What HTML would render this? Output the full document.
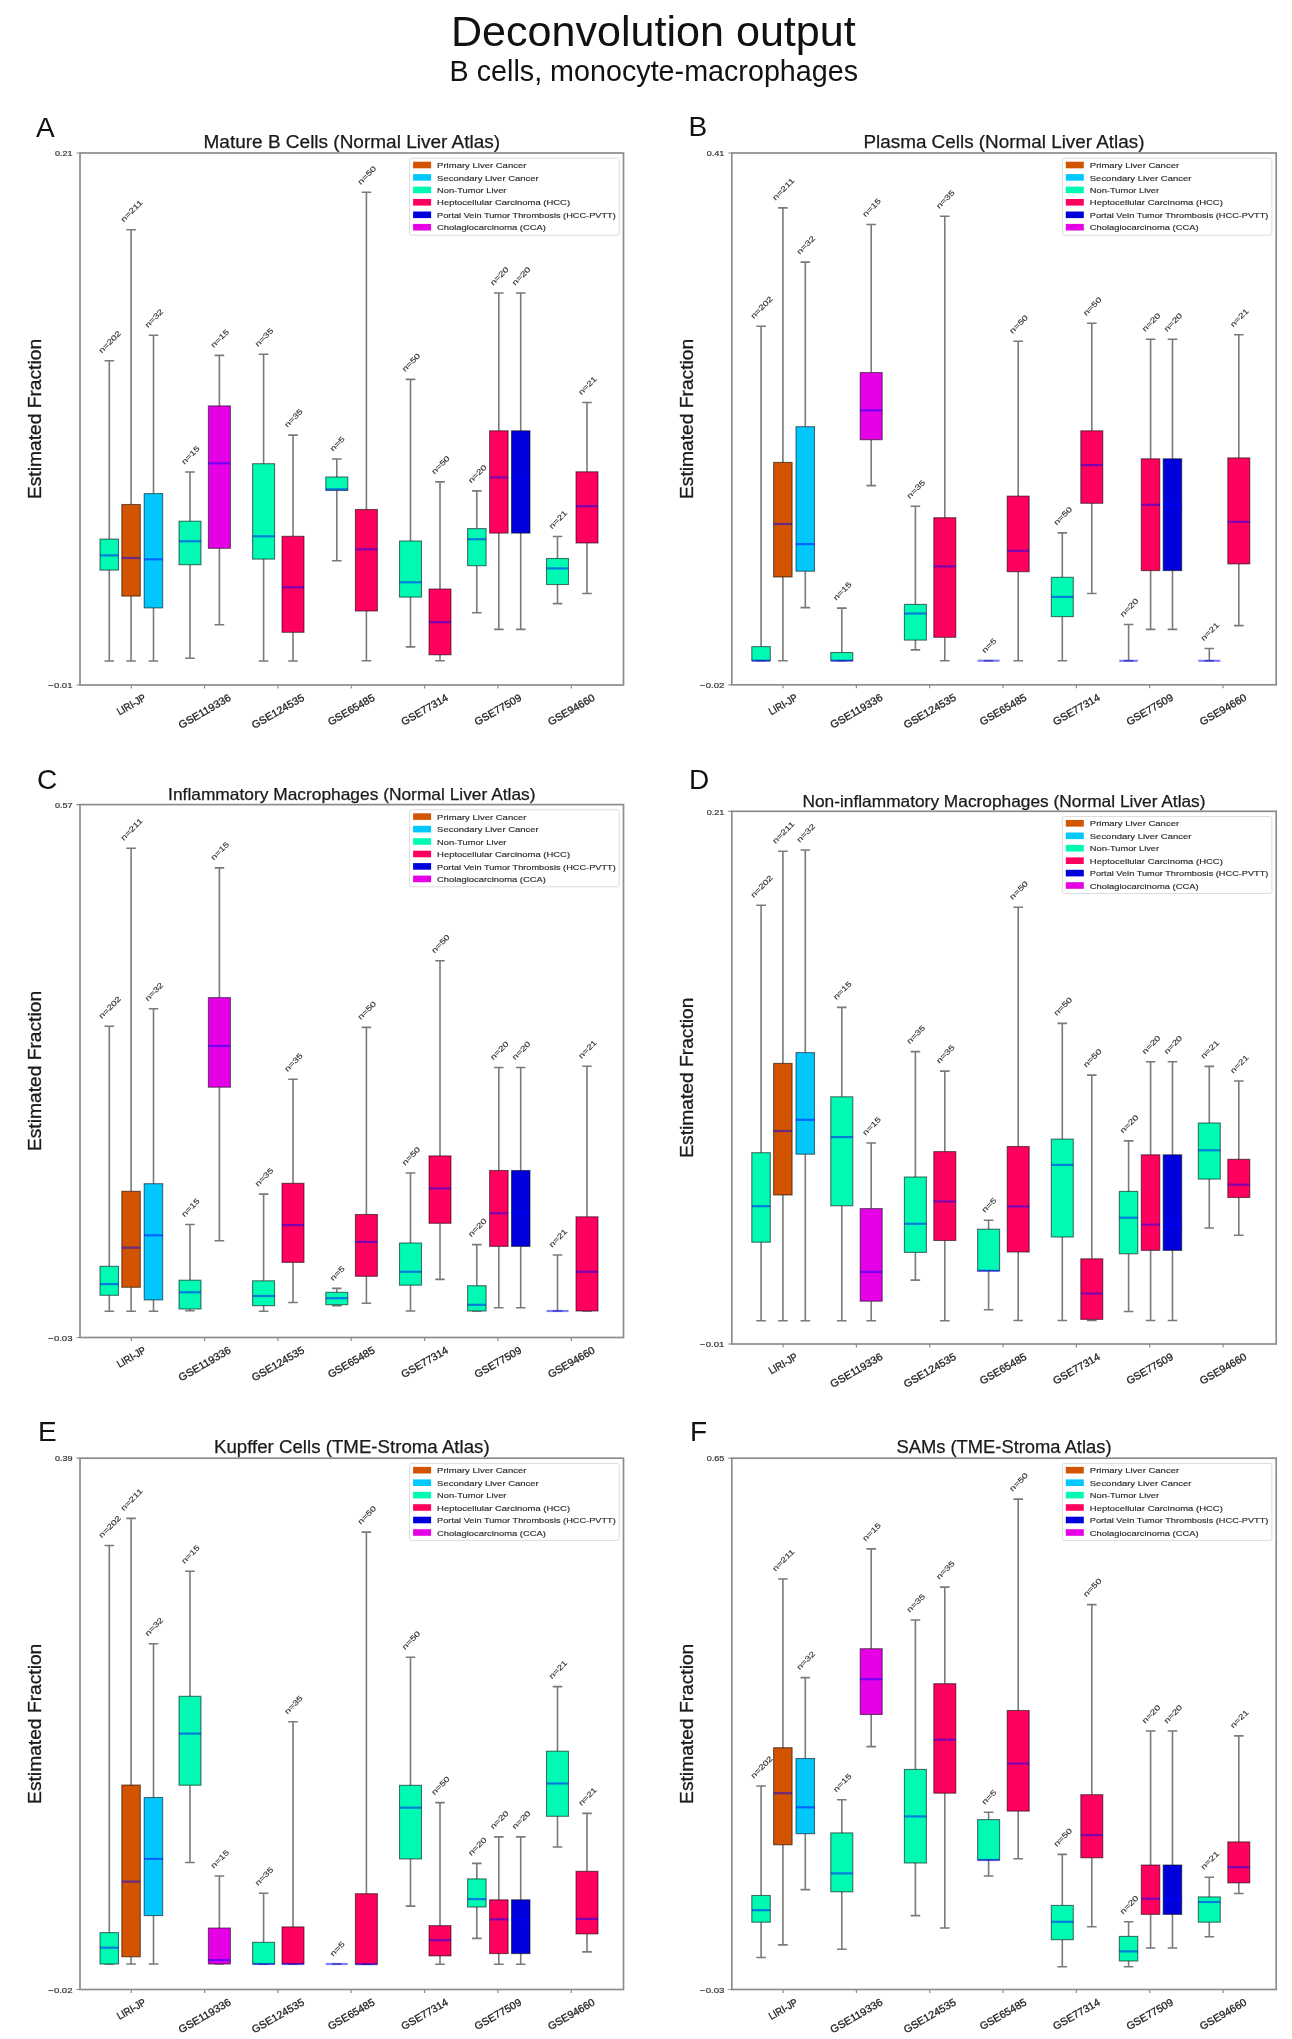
<!DOCTYPE html><html><head><meta charset="utf-8"><style>html,body{margin:0;padding:0;background:#fff;}svg{display:block;filter:blur(0.4px);}text{font-family:"Liberation Sans",sans-serif;}</style></head><body>
<svg width="1292" height="2039" viewBox="0 0 1292 2039">
<rect width="1292" height="2039" fill="#fff"/>
<text x="451" y="45.9" font-size="42" textLength="404.7" lengthAdjust="spacingAndGlyphs" fill="#111">Deconvolution output</text>
<text x="449.6" y="81.3" font-size="28.6" textLength="408.5" lengthAdjust="spacingAndGlyphs" fill="#111">B cells, monocyte-macrophages</text>
<text x="36" y="136.6" font-size="28" fill="#111">A</text>
<text x="351.8" y="147.8" font-size="18.3" text-anchor="middle" textLength="296.5" lengthAdjust="spacingAndGlyphs" fill="#1a1a1a" stroke="#1a1a1a" stroke-width="0.25">Mature B Cells (Normal Liver Atlas)</text>
<text transform="translate(41.2,419) rotate(-90)" font-size="18.4" text-anchor="middle" textLength="160.2" lengthAdjust="spacingAndGlyphs" fill="#1a1a1a" stroke="#1a1a1a" stroke-width="0.3">Estimated Fraction</text>
<text x="72.5" y="156.2" font-size="8.0" text-anchor="end" textLength="17.6" lengthAdjust="spacingAndGlyphs" fill="#333" stroke="#333" stroke-width="0.2">0.21</text>
<text x="72.5" y="688.2" font-size="8.0" text-anchor="end" textLength="24.2" lengthAdjust="spacingAndGlyphs" fill="#333" stroke="#333" stroke-width="0.2">−0.01</text>
<path d="M109.3 360.8V539.1M109.3 570.1V661M104.5 360.8H114.1M104.5 661H114.1" stroke="#7a7a7a" stroke-width="1.6" fill="none"/>
<rect x="100" y="539.1" width="18.5" height="31" fill="#00FAB4" stroke="rgba(0,0,0,0.55)" stroke-width="1.1"/>
<path d="M100 555.4H118.5" stroke="rgba(0,0,255,0.5)" stroke-width="2.2"/>
<text transform="translate(109.8,341.9) rotate(-45)" font-size="7.4" text-anchor="middle" dy="2.6" textLength="27.7" lengthAdjust="spacingAndGlyphs" fill="#333" stroke="#333" stroke-width="0.15">n=202</text>
<path d="M131.1 229.8V504.5M131.1 596.1V661M126.3 229.8H135.9M126.3 661H135.9" stroke="#7a7a7a" stroke-width="1.6" fill="none"/>
<rect x="121.8" y="504.5" width="18.5" height="91.6" fill="#D35400" stroke="rgba(0,0,0,0.55)" stroke-width="1.1"/>
<path d="M121.8 558H140.3" stroke="rgba(0,0,255,0.5)" stroke-width="2.2"/>
<text transform="translate(131.6,210.9) rotate(-45)" font-size="7.4" text-anchor="middle" dy="2.6" textLength="27.7" lengthAdjust="spacingAndGlyphs" fill="#333" stroke="#333" stroke-width="0.15">n=211</text>
<path d="M153.5 335.2V493.6M153.5 607.9V661M148.7 335.2H158.3M148.7 661H158.3" stroke="#7a7a7a" stroke-width="1.6" fill="none"/>
<rect x="144.2" y="493.6" width="18.5" height="114.3" fill="#00C8FF" stroke="rgba(0,0,0,0.55)" stroke-width="1.1"/>
<path d="M144.2 559.3H162.8" stroke="rgba(0,0,255,0.5)" stroke-width="2.2"/>
<text transform="translate(154,318.1) rotate(-45)" font-size="7.4" text-anchor="middle" dy="2.6" textLength="22.5" lengthAdjust="spacingAndGlyphs" fill="#333" stroke="#333" stroke-width="0.15">n=32</text>
<path d="M190 472V521.2M190 564.7V658.3M185.2 472H194.8M185.2 658.3H194.8" stroke="#7a7a7a" stroke-width="1.6" fill="none"/>
<rect x="179" y="521.2" width="22" height="43.5" fill="#00FAB4" stroke="rgba(0,0,0,0.55)" stroke-width="1.1"/>
<path d="M179 541.3H201" stroke="rgba(0,0,255,0.5)" stroke-width="2.2"/>
<text transform="translate(190.5,454.9) rotate(-45)" font-size="7.4" text-anchor="middle" dy="2.6" textLength="22.5" lengthAdjust="spacingAndGlyphs" fill="#333" stroke="#333" stroke-width="0.15">n=15</text>
<path d="M219.4 355.4V405.9M219.4 548.3V624.8M214.6 355.4H224.2M214.6 624.8H224.2" stroke="#7a7a7a" stroke-width="1.6" fill="none"/>
<rect x="208.4" y="405.9" width="22" height="142.4" fill="#E600E6" stroke="rgba(0,0,0,0.55)" stroke-width="1.1"/>
<path d="M208.4 463.3H230.4" stroke="rgba(0,0,255,0.5)" stroke-width="2.2"/>
<text transform="translate(219.9,338.3) rotate(-45)" font-size="7.4" text-anchor="middle" dy="2.6" textLength="22.5" lengthAdjust="spacingAndGlyphs" fill="#333" stroke="#333" stroke-width="0.15">n=15</text>
<path d="M263.6 354.3V463.7M263.6 559.1V661M258.8 354.3H268.4M258.8 661H268.4" stroke="#7a7a7a" stroke-width="1.6" fill="none"/>
<rect x="252.6" y="463.7" width="22" height="95.4" fill="#00FAB4" stroke="rgba(0,0,0,0.55)" stroke-width="1.1"/>
<path d="M252.6 536.3H274.6" stroke="rgba(0,0,255,0.5)" stroke-width="2.2"/>
<text transform="translate(264.1,337.2) rotate(-45)" font-size="7.4" text-anchor="middle" dy="2.6" textLength="22.5" lengthAdjust="spacingAndGlyphs" fill="#333" stroke="#333" stroke-width="0.15">n=35</text>
<path d="M293 435.1V536.3M293 632.3V661M288.2 435.1H297.8M288.2 661H297.8" stroke="#7a7a7a" stroke-width="1.6" fill="none"/>
<rect x="282" y="536.3" width="22" height="96" fill="#FF005F" stroke="rgba(0,0,0,0.55)" stroke-width="1.1"/>
<path d="M282 587.3H304" stroke="rgba(0,0,255,0.5)" stroke-width="2.2"/>
<text transform="translate(293.5,418) rotate(-45)" font-size="7.4" text-anchor="middle" dy="2.6" textLength="22.5" lengthAdjust="spacingAndGlyphs" fill="#333" stroke="#333" stroke-width="0.15">n=35</text>
<path d="M336.8 459V477M336.8 490.4V560.8M332 459H341.6M332 560.8H341.6" stroke="#7a7a7a" stroke-width="1.6" fill="none"/>
<rect x="325.8" y="477" width="22" height="13.4" fill="#00FAB4" stroke="rgba(0,0,0,0.55)" stroke-width="1.1"/>
<path d="M325.8 489.3H347.8" stroke="rgba(0,0,255,0.5)" stroke-width="2.2"/>
<text transform="translate(337.3,443.8) rotate(-45)" font-size="7.4" text-anchor="middle" dy="2.6" textLength="17.3" lengthAdjust="spacingAndGlyphs" fill="#333" stroke="#333" stroke-width="0.15">n=5</text>
<path d="M366.4 192.2V509.5M366.4 611V660.8M361.6 192.2H371.2M361.6 660.8H371.2" stroke="#7a7a7a" stroke-width="1.6" fill="none"/>
<rect x="355.4" y="509.5" width="22" height="101.5" fill="#FF005F" stroke="rgba(0,0,0,0.55)" stroke-width="1.1"/>
<path d="M355.4 549.3H377.4" stroke="rgba(0,0,255,0.5)" stroke-width="2.2"/>
<text transform="translate(366.9,175.1) rotate(-45)" font-size="7.4" text-anchor="middle" dy="2.6" textLength="22.5" lengthAdjust="spacingAndGlyphs" fill="#333" stroke="#333" stroke-width="0.15">n=50</text>
<path d="M410.5 379.4V541M410.5 597.1V646.9M405.7 379.4H415.3M405.7 646.9H415.3" stroke="#7a7a7a" stroke-width="1.6" fill="none"/>
<rect x="399.5" y="541" width="22" height="56.1" fill="#00FAB4" stroke="rgba(0,0,0,0.55)" stroke-width="1.1"/>
<path d="M399.5 582.3H421.5" stroke="rgba(0,0,255,0.5)" stroke-width="2.2"/>
<text transform="translate(411,362.3) rotate(-45)" font-size="7.4" text-anchor="middle" dy="2.6" textLength="22.5" lengthAdjust="spacingAndGlyphs" fill="#333" stroke="#333" stroke-width="0.15">n=50</text>
<path d="M440 481.9V589M440 654.8V660.8M435.2 481.9H444.8M435.2 660.8H444.8" stroke="#7a7a7a" stroke-width="1.6" fill="none"/>
<rect x="429" y="589" width="22" height="65.8" fill="#FF005F" stroke="rgba(0,0,0,0.55)" stroke-width="1.1"/>
<path d="M429 622.2H451" stroke="rgba(0,0,255,0.5)" stroke-width="2.2"/>
<text transform="translate(440.5,464.8) rotate(-45)" font-size="7.4" text-anchor="middle" dy="2.6" textLength="22.5" lengthAdjust="spacingAndGlyphs" fill="#333" stroke="#333" stroke-width="0.15">n=50</text>
<path d="M476.8 490.9V528.6M476.8 565.7V612.8M472 490.9H481.6M472 612.8H481.6" stroke="#7a7a7a" stroke-width="1.6" fill="none"/>
<rect x="467.6" y="528.6" width="18.5" height="37.1" fill="#00FAB4" stroke="rgba(0,0,0,0.55)" stroke-width="1.1"/>
<path d="M467.6 539.2H486.1" stroke="rgba(0,0,255,0.5)" stroke-width="2.2"/>
<text transform="translate(477.3,473.8) rotate(-45)" font-size="7.4" text-anchor="middle" dy="2.6" textLength="22.5" lengthAdjust="spacingAndGlyphs" fill="#333" stroke="#333" stroke-width="0.15">n=20</text>
<path d="M498.8 293V430.8M498.8 533.1V629.4M494 293H503.6M494 629.4H503.6" stroke="#7a7a7a" stroke-width="1.6" fill="none"/>
<rect x="489.6" y="430.8" width="18.5" height="102.3" fill="#FF005F" stroke="rgba(0,0,0,0.55)" stroke-width="1.1"/>
<path d="M489.6 477.4H508.1" stroke="rgba(0,0,255,0.5)" stroke-width="2.2"/>
<text transform="translate(499.3,275.9) rotate(-45)" font-size="7.4" text-anchor="middle" dy="2.6" textLength="22.5" lengthAdjust="spacingAndGlyphs" fill="#333" stroke="#333" stroke-width="0.15">n=20</text>
<path d="M520.7 293V430.8M520.7 533.1V629.4M515.9 293H525.5M515.9 629.4H525.5" stroke="#7a7a7a" stroke-width="1.6" fill="none"/>
<rect x="511.5" y="430.8" width="18.5" height="102.3" fill="#0000DD" stroke="rgba(0,0,0,0.55)" stroke-width="1.1"/>
<path d="M511.5 477.4H530" stroke="rgba(0,0,255,0.5)" stroke-width="2.2"/>
<text transform="translate(521.2,275.9) rotate(-45)" font-size="7.4" text-anchor="middle" dy="2.6" textLength="22.5" lengthAdjust="spacingAndGlyphs" fill="#333" stroke="#333" stroke-width="0.15">n=20</text>
<path d="M557.5 536.5V558.5M557.5 584.5V603.6M552.7 536.5H562.3M552.7 603.6H562.3" stroke="#7a7a7a" stroke-width="1.6" fill="none"/>
<rect x="546.5" y="558.5" width="22" height="26" fill="#00FAB4" stroke="rgba(0,0,0,0.55)" stroke-width="1.1"/>
<path d="M546.5 568.4H568.5" stroke="rgba(0,0,255,0.5)" stroke-width="2.2"/>
<text transform="translate(558,519.4) rotate(-45)" font-size="7.4" text-anchor="middle" dy="2.6" textLength="22.5" lengthAdjust="spacingAndGlyphs" fill="#333" stroke="#333" stroke-width="0.15">n=21</text>
<path d="M587 402.5V471.8M587 543V593.5M582.2 402.5H591.8M582.2 593.5H591.8" stroke="#7a7a7a" stroke-width="1.6" fill="none"/>
<rect x="576" y="471.8" width="22" height="71.2" fill="#FF005F" stroke="rgba(0,0,0,0.55)" stroke-width="1.1"/>
<path d="M576 506.2H598" stroke="rgba(0,0,255,0.5)" stroke-width="2.2"/>
<text transform="translate(587.5,385.4) rotate(-45)" font-size="7.4" text-anchor="middle" dy="2.6" textLength="22.5" lengthAdjust="spacingAndGlyphs" fill="#333" stroke="#333" stroke-width="0.15">n=21</text>
<rect x="80" y="153" width="543.5" height="532" fill="none" stroke="#8c8c8c" stroke-width="1.7"/>
<path d="M131.3 685v3.5M204.6 685v3.5M277.9 685v3.5M351.2 685v3.5M424.6 685v3.5M497.9 685v3.5M571.3 685v3.5M80 153h-3.5M80 685h-3.5" stroke="#8c8c8c" stroke-width="1.2"/>
<text transform="translate(131.3,704.6) rotate(-30)" font-size="10.5" text-anchor="middle" dy="3.6" textLength="31.6" lengthAdjust="spacingAndGlyphs" fill="#222" stroke="#222" stroke-width="0.3">LIRI-JP</text>
<text transform="translate(204.6,711.3) rotate(-30)" font-size="10.5" text-anchor="middle" dy="3.6" textLength="58.6" lengthAdjust="spacingAndGlyphs" fill="#222" stroke="#222" stroke-width="0.3">GSE119336</text>
<text transform="translate(277.9,711.3) rotate(-30)" font-size="10.5" text-anchor="middle" dy="3.6" textLength="58.6" lengthAdjust="spacingAndGlyphs" fill="#222" stroke="#222" stroke-width="0.3">GSE124535</text>
<text transform="translate(351.2,709.7) rotate(-30)" font-size="10.5" text-anchor="middle" dy="3.6" textLength="52.2" lengthAdjust="spacingAndGlyphs" fill="#222" stroke="#222" stroke-width="0.3">GSE65485</text>
<text transform="translate(424.6,709.7) rotate(-30)" font-size="10.5" text-anchor="middle" dy="3.6" textLength="52.2" lengthAdjust="spacingAndGlyphs" fill="#222" stroke="#222" stroke-width="0.3">GSE77314</text>
<text transform="translate(497.9,709.7) rotate(-30)" font-size="10.5" text-anchor="middle" dy="3.6" textLength="52.2" lengthAdjust="spacingAndGlyphs" fill="#222" stroke="#222" stroke-width="0.3">GSE77509</text>
<text transform="translate(571.3,709.7) rotate(-30)" font-size="10.5" text-anchor="middle" dy="3.6" textLength="52.2" lengthAdjust="spacingAndGlyphs" fill="#222" stroke="#222" stroke-width="0.3">GSE94660</text>
<rect x="409.6" y="158.2" width="209.6" height="77" rx="2" fill="rgba(255,255,255,0.85)" stroke="#dcdcdc" stroke-width="1"/>
<rect x="413.1" y="161.7" width="18" height="6.6" fill="#D35400"/>
<text x="437.1" y="168.1" font-size="7.7" textLength="89.3" lengthAdjust="spacingAndGlyphs" fill="#2a2a2a" stroke="#2a2a2a" stroke-width="0.15">Primary Liver Cancer</text>
<rect x="413.1" y="174.1" width="18" height="6.6" fill="#00C8FF"/>
<text x="437.1" y="180.5" font-size="7.7" textLength="101.6" lengthAdjust="spacingAndGlyphs" fill="#2a2a2a" stroke="#2a2a2a" stroke-width="0.15">Secondary Liver Cancer</text>
<rect x="413.1" y="186.6" width="18" height="6.6" fill="#00FAB4"/>
<text x="437.1" y="193" font-size="7.7" textLength="69.3" lengthAdjust="spacingAndGlyphs" fill="#2a2a2a" stroke="#2a2a2a" stroke-width="0.15">Non-Tumor Liver</text>
<rect x="413.1" y="199" width="18" height="6.6" fill="#FF005F"/>
<text x="437.1" y="205.4" font-size="7.7" textLength="133" lengthAdjust="spacingAndGlyphs" fill="#2a2a2a" stroke="#2a2a2a" stroke-width="0.15">Heptocellular Carcinoma (HCC)</text>
<rect x="413.1" y="211.5" width="18" height="6.6" fill="#0000DD"/>
<text x="437.1" y="217.9" font-size="7.7" textLength="178.6" lengthAdjust="spacingAndGlyphs" fill="#2a2a2a" stroke="#2a2a2a" stroke-width="0.15">Portal Vein Tumor Thrombosis (HCC-PVTT)</text>
<rect x="413.1" y="223.9" width="18" height="6.6" fill="#E600E6"/>
<text x="437.1" y="230.3" font-size="7.7" textLength="108.8" lengthAdjust="spacingAndGlyphs" fill="#2a2a2a" stroke="#2a2a2a" stroke-width="0.15">Cholagiocarcinoma (CCA)</text>
<text x="688.4" y="136.3" font-size="28" fill="#111">B</text>
<text x="1004" y="147.8" font-size="18.3" text-anchor="middle" textLength="281.1" lengthAdjust="spacingAndGlyphs" fill="#1a1a1a" stroke="#1a1a1a" stroke-width="0.25">Plasma Cells (Normal Liver Atlas)</text>
<text transform="translate(693,418.9) rotate(-90)" font-size="18.4" text-anchor="middle" textLength="160.2" lengthAdjust="spacingAndGlyphs" fill="#1a1a1a" stroke="#1a1a1a" stroke-width="0.3">Estimated Fraction</text>
<text x="724.3" y="156.2" font-size="8.0" text-anchor="end" textLength="17.6" lengthAdjust="spacingAndGlyphs" fill="#333" stroke="#333" stroke-width="0.2">0.41</text>
<text x="724.3" y="688" font-size="8.0" text-anchor="end" textLength="24.2" lengthAdjust="spacingAndGlyphs" fill="#333" stroke="#333" stroke-width="0.2">−0.02</text>
<path d="M761.1 326.3V646.6M761.1 660.7V660.7M756.3 326.3H765.9M756.3 660.7H765.9" stroke="#7a7a7a" stroke-width="1.6" fill="none"/>
<rect x="751.8" y="646.6" width="18.5" height="14.1" fill="#00FAB4" stroke="rgba(0,0,0,0.55)" stroke-width="1.1"/>
<path d="M751.8 660.7H770.3" stroke="rgba(0,0,255,0.5)" stroke-width="2.2"/>
<text transform="translate(761.6,307.4) rotate(-45)" font-size="7.4" text-anchor="middle" dy="2.6" textLength="27.7" lengthAdjust="spacingAndGlyphs" fill="#333" stroke="#333" stroke-width="0.15">n=202</text>
<path d="M782.9 207.9V462.4M782.9 577V660.7M778.1 207.9H787.7M778.1 660.7H787.7" stroke="#7a7a7a" stroke-width="1.6" fill="none"/>
<rect x="773.6" y="462.4" width="18.5" height="114.6" fill="#D35400" stroke="rgba(0,0,0,0.55)" stroke-width="1.1"/>
<path d="M773.6 524H792.1" stroke="rgba(0,0,255,0.5)" stroke-width="2.2"/>
<text transform="translate(783.4,189) rotate(-45)" font-size="7.4" text-anchor="middle" dy="2.6" textLength="27.7" lengthAdjust="spacingAndGlyphs" fill="#333" stroke="#333" stroke-width="0.15">n=211</text>
<path d="M805.3 262.1V426.7M805.3 571.2V607.6M800.5 262.1H810.1M800.5 607.6H810.1" stroke="#7a7a7a" stroke-width="1.6" fill="none"/>
<rect x="796" y="426.7" width="18.5" height="144.5" fill="#00C8FF" stroke="rgba(0,0,0,0.55)" stroke-width="1.1"/>
<path d="M796 544.1H814.5" stroke="rgba(0,0,255,0.5)" stroke-width="2.2"/>
<text transform="translate(805.8,245) rotate(-45)" font-size="7.4" text-anchor="middle" dy="2.6" textLength="22.5" lengthAdjust="spacingAndGlyphs" fill="#333" stroke="#333" stroke-width="0.15">n=32</text>
<path d="M841.8 608.1V652.5M841.8 660.7V660.7M837 608.1H846.6M837 660.7H846.6" stroke="#7a7a7a" stroke-width="1.6" fill="none"/>
<rect x="830.8" y="652.5" width="22" height="8.2" fill="#00FAB4" stroke="rgba(0,0,0,0.55)" stroke-width="1.1"/>
<path d="M830.8 660.7H852.8" stroke="rgba(0,0,255,0.5)" stroke-width="2.2"/>
<text transform="translate(842.3,591) rotate(-45)" font-size="7.4" text-anchor="middle" dy="2.6" textLength="22.5" lengthAdjust="spacingAndGlyphs" fill="#333" stroke="#333" stroke-width="0.15">n=15</text>
<path d="M871.2 224.5V372.6M871.2 439.7V485.6M866.4 224.5H876M866.4 485.6H876" stroke="#7a7a7a" stroke-width="1.6" fill="none"/>
<rect x="860.2" y="372.6" width="22" height="67.1" fill="#E600E6" stroke="rgba(0,0,0,0.55)" stroke-width="1.1"/>
<path d="M860.2 410.4H882.2" stroke="rgba(0,0,255,0.5)" stroke-width="2.2"/>
<text transform="translate(871.7,207.4) rotate(-45)" font-size="7.4" text-anchor="middle" dy="2.6" textLength="22.5" lengthAdjust="spacingAndGlyphs" fill="#333" stroke="#333" stroke-width="0.15">n=15</text>
<path d="M915.4 506.2V604.4M915.4 640.1V649.9M910.6 506.2H920.2M910.6 649.9H920.2" stroke="#7a7a7a" stroke-width="1.6" fill="none"/>
<rect x="904.4" y="604.4" width="22" height="35.7" fill="#00FAB4" stroke="rgba(0,0,0,0.55)" stroke-width="1.1"/>
<path d="M904.4 613.5H926.4" stroke="rgba(0,0,255,0.5)" stroke-width="2.2"/>
<text transform="translate(915.9,489.1) rotate(-45)" font-size="7.4" text-anchor="middle" dy="2.6" textLength="22.5" lengthAdjust="spacingAndGlyphs" fill="#333" stroke="#333" stroke-width="0.15">n=35</text>
<path d="M944.8 216.3V517.7M944.8 637.3V660.7M940 216.3H949.6M940 660.7H949.6" stroke="#7a7a7a" stroke-width="1.6" fill="none"/>
<rect x="933.8" y="517.7" width="22" height="119.6" fill="#FF005F" stroke="rgba(0,0,0,0.55)" stroke-width="1.1"/>
<path d="M933.8 566.4H955.8" stroke="rgba(0,0,255,0.5)" stroke-width="2.2"/>
<text transform="translate(945.3,199.2) rotate(-45)" font-size="7.4" text-anchor="middle" dy="2.6" textLength="22.5" lengthAdjust="spacingAndGlyphs" fill="#333" stroke="#333" stroke-width="0.15">n=35</text>
<path d="M988.6 660.7V660.7M988.6 660.7V660.7M983.8 660.7H993.4M983.8 660.7H993.4" stroke="#7a7a7a" stroke-width="1.6" fill="none"/>
<rect x="977.6" y="660.7" width="22" height="0" fill="#00FAB4" stroke="rgba(0,0,0,0.55)" stroke-width="1.1"/>
<path d="M977.6 660.7H999.6" stroke="rgba(0,0,255,0.5)" stroke-width="2.2"/>
<text transform="translate(989.1,645.5) rotate(-45)" font-size="7.4" text-anchor="middle" dy="2.6" textLength="17.3" lengthAdjust="spacingAndGlyphs" fill="#333" stroke="#333" stroke-width="0.15">n=5</text>
<path d="M1018.2 341.2V496.1M1018.2 571.7V660.8M1013.4 341.2H1023M1013.4 660.8H1023" stroke="#7a7a7a" stroke-width="1.6" fill="none"/>
<rect x="1007.2" y="496.1" width="22" height="75.6" fill="#FF005F" stroke="rgba(0,0,0,0.55)" stroke-width="1.1"/>
<path d="M1007.2 550.8H1029.2" stroke="rgba(0,0,255,0.5)" stroke-width="2.2"/>
<text transform="translate(1018.7,324.1) rotate(-45)" font-size="7.4" text-anchor="middle" dy="2.6" textLength="22.5" lengthAdjust="spacingAndGlyphs" fill="#333" stroke="#333" stroke-width="0.15">n=50</text>
<path d="M1062.3 532.9V577.3M1062.3 616.6V660.8M1057.5 532.9H1067.1M1057.5 660.8H1067.1" stroke="#7a7a7a" stroke-width="1.6" fill="none"/>
<rect x="1051.3" y="577.3" width="22" height="39.3" fill="#00FAB4" stroke="rgba(0,0,0,0.55)" stroke-width="1.1"/>
<path d="M1051.3 596.9H1073.3" stroke="rgba(0,0,255,0.5)" stroke-width="2.2"/>
<text transform="translate(1062.8,515.8) rotate(-45)" font-size="7.4" text-anchor="middle" dy="2.6" textLength="22.5" lengthAdjust="spacingAndGlyphs" fill="#333" stroke="#333" stroke-width="0.15">n=50</text>
<path d="M1091.8 323.3V430.8M1091.8 503.3V593.5M1087 323.3H1096.6M1087 593.5H1096.6" stroke="#7a7a7a" stroke-width="1.6" fill="none"/>
<rect x="1080.8" y="430.8" width="22" height="72.5" fill="#FF005F" stroke="rgba(0,0,0,0.55)" stroke-width="1.1"/>
<path d="M1080.8 465.1H1102.8" stroke="rgba(0,0,255,0.5)" stroke-width="2.2"/>
<text transform="translate(1092.3,306.2) rotate(-45)" font-size="7.4" text-anchor="middle" dy="2.6" textLength="22.5" lengthAdjust="spacingAndGlyphs" fill="#333" stroke="#333" stroke-width="0.15">n=50</text>
<path d="M1128.6 624.5V660.8M1128.6 660.8V660.8M1123.8 624.5H1133.4M1123.8 660.8H1133.4" stroke="#7a7a7a" stroke-width="1.6" fill="none"/>
<rect x="1119.3" y="660.8" width="18.5" height="0" fill="#00FAB4" stroke="rgba(0,0,0,0.55)" stroke-width="1.1"/>
<path d="M1119.3 660.8H1137.8" stroke="rgba(0,0,255,0.5)" stroke-width="2.2"/>
<text transform="translate(1129.1,607.4) rotate(-45)" font-size="7.4" text-anchor="middle" dy="2.6" textLength="22.5" lengthAdjust="spacingAndGlyphs" fill="#333" stroke="#333" stroke-width="0.15">n=20</text>
<path d="M1150.6 339.2V458.8M1150.6 570.6V629.4M1145.8 339.2H1155.4M1145.8 629.4H1155.4" stroke="#7a7a7a" stroke-width="1.6" fill="none"/>
<rect x="1141.3" y="458.8" width="18.5" height="111.8" fill="#FF005F" stroke="rgba(0,0,0,0.55)" stroke-width="1.1"/>
<path d="M1141.3 504.8H1159.8" stroke="rgba(0,0,255,0.5)" stroke-width="2.2"/>
<text transform="translate(1151.1,322.1) rotate(-45)" font-size="7.4" text-anchor="middle" dy="2.6" textLength="22.5" lengthAdjust="spacingAndGlyphs" fill="#333" stroke="#333" stroke-width="0.15">n=20</text>
<path d="M1172.5 339.2V458.8M1172.5 570.6V629.4M1167.7 339.2H1177.3M1167.7 629.4H1177.3" stroke="#7a7a7a" stroke-width="1.6" fill="none"/>
<rect x="1163.2" y="458.8" width="18.5" height="111.8" fill="#0000DD" stroke="rgba(0,0,0,0.55)" stroke-width="1.1"/>
<path d="M1163.2 504.8H1181.8" stroke="rgba(0,0,255,0.5)" stroke-width="2.2"/>
<text transform="translate(1173,322.1) rotate(-45)" font-size="7.4" text-anchor="middle" dy="2.6" textLength="22.5" lengthAdjust="spacingAndGlyphs" fill="#333" stroke="#333" stroke-width="0.15">n=20</text>
<path d="M1209.3 648.5V660.8M1209.3 660.8V660.8M1204.5 648.5H1214.1M1204.5 660.8H1214.1" stroke="#7a7a7a" stroke-width="1.6" fill="none"/>
<rect x="1198.3" y="660.8" width="22" height="0" fill="#00FAB4" stroke="rgba(0,0,0,0.55)" stroke-width="1.1"/>
<path d="M1198.3 660.8H1220.3" stroke="rgba(0,0,255,0.5)" stroke-width="2.2"/>
<text transform="translate(1209.8,631.4) rotate(-45)" font-size="7.4" text-anchor="middle" dy="2.6" textLength="22.5" lengthAdjust="spacingAndGlyphs" fill="#333" stroke="#333" stroke-width="0.15">n=21</text>
<path d="M1238.8 334.7V457.9M1238.8 563.9V625.6M1234 334.7H1243.6M1234 625.6H1243.6" stroke="#7a7a7a" stroke-width="1.6" fill="none"/>
<rect x="1227.8" y="457.9" width="22" height="106" fill="#FF005F" stroke="rgba(0,0,0,0.55)" stroke-width="1.1"/>
<path d="M1227.8 521.9H1249.8" stroke="rgba(0,0,255,0.5)" stroke-width="2.2"/>
<text transform="translate(1239.3,317.6) rotate(-45)" font-size="7.4" text-anchor="middle" dy="2.6" textLength="22.5" lengthAdjust="spacingAndGlyphs" fill="#333" stroke="#333" stroke-width="0.15">n=21</text>
<rect x="731.8" y="153" width="544.4" height="531.8" fill="none" stroke="#8c8c8c" stroke-width="1.7"/>
<path d="M783.1 684.8v3.5M856.4 684.8v3.5M929.7 684.8v3.5M1003 684.8v3.5M1076.4 684.8v3.5M1149.7 684.8v3.5M1223.1 684.8v3.5M731.8 153h-3.5M731.8 684.8h-3.5" stroke="#8c8c8c" stroke-width="1.2"/>
<text transform="translate(783.1,704.4) rotate(-30)" font-size="10.5" text-anchor="middle" dy="3.6" textLength="31.6" lengthAdjust="spacingAndGlyphs" fill="#222" stroke="#222" stroke-width="0.3">LIRI-JP</text>
<text transform="translate(856.4,711.1) rotate(-30)" font-size="10.5" text-anchor="middle" dy="3.6" textLength="58.6" lengthAdjust="spacingAndGlyphs" fill="#222" stroke="#222" stroke-width="0.3">GSE119336</text>
<text transform="translate(929.7,711.1) rotate(-30)" font-size="10.5" text-anchor="middle" dy="3.6" textLength="58.6" lengthAdjust="spacingAndGlyphs" fill="#222" stroke="#222" stroke-width="0.3">GSE124535</text>
<text transform="translate(1003,709.5) rotate(-30)" font-size="10.5" text-anchor="middle" dy="3.6" textLength="52.2" lengthAdjust="spacingAndGlyphs" fill="#222" stroke="#222" stroke-width="0.3">GSE65485</text>
<text transform="translate(1076.4,709.5) rotate(-30)" font-size="10.5" text-anchor="middle" dy="3.6" textLength="52.2" lengthAdjust="spacingAndGlyphs" fill="#222" stroke="#222" stroke-width="0.3">GSE77314</text>
<text transform="translate(1149.7,709.5) rotate(-30)" font-size="10.5" text-anchor="middle" dy="3.6" textLength="52.2" lengthAdjust="spacingAndGlyphs" fill="#222" stroke="#222" stroke-width="0.3">GSE77509</text>
<text transform="translate(1223.1,709.5) rotate(-30)" font-size="10.5" text-anchor="middle" dy="3.6" textLength="52.2" lengthAdjust="spacingAndGlyphs" fill="#222" stroke="#222" stroke-width="0.3">GSE94660</text>
<rect x="1062.3" y="158.2" width="209.6" height="77" rx="2" fill="rgba(255,255,255,0.85)" stroke="#dcdcdc" stroke-width="1"/>
<rect x="1065.8" y="161.7" width="18" height="6.6" fill="#D35400"/>
<text x="1089.8" y="168.1" font-size="7.7" textLength="89.3" lengthAdjust="spacingAndGlyphs" fill="#2a2a2a" stroke="#2a2a2a" stroke-width="0.15">Primary Liver Cancer</text>
<rect x="1065.8" y="174.1" width="18" height="6.6" fill="#00C8FF"/>
<text x="1089.8" y="180.5" font-size="7.7" textLength="101.6" lengthAdjust="spacingAndGlyphs" fill="#2a2a2a" stroke="#2a2a2a" stroke-width="0.15">Secondary Liver Cancer</text>
<rect x="1065.8" y="186.6" width="18" height="6.6" fill="#00FAB4"/>
<text x="1089.8" y="193" font-size="7.7" textLength="69.3" lengthAdjust="spacingAndGlyphs" fill="#2a2a2a" stroke="#2a2a2a" stroke-width="0.15">Non-Tumor Liver</text>
<rect x="1065.8" y="199" width="18" height="6.6" fill="#FF005F"/>
<text x="1089.8" y="205.4" font-size="7.7" textLength="133" lengthAdjust="spacingAndGlyphs" fill="#2a2a2a" stroke="#2a2a2a" stroke-width="0.15">Heptocellular Carcinoma (HCC)</text>
<rect x="1065.8" y="211.5" width="18" height="6.6" fill="#0000DD"/>
<text x="1089.8" y="217.9" font-size="7.7" textLength="178.6" lengthAdjust="spacingAndGlyphs" fill="#2a2a2a" stroke="#2a2a2a" stroke-width="0.15">Portal Vein Tumor Thrombosis (HCC-PVTT)</text>
<rect x="1065.8" y="223.9" width="18" height="6.6" fill="#E600E6"/>
<text x="1089.8" y="230.3" font-size="7.7" textLength="108.8" lengthAdjust="spacingAndGlyphs" fill="#2a2a2a" stroke="#2a2a2a" stroke-width="0.15">Cholagiocarcinoma (CCA)</text>
<text x="37" y="789" font-size="28" fill="#111">C</text>
<text x="351.8" y="800" font-size="16.5" text-anchor="middle" textLength="367.4" lengthAdjust="spacingAndGlyphs" fill="#1a1a1a" stroke="#1a1a1a" stroke-width="0.25">Inflammatory Macrophages (Normal Liver Atlas)</text>
<text transform="translate(41.2,1071) rotate(-90)" font-size="18.4" text-anchor="middle" textLength="160.2" lengthAdjust="spacingAndGlyphs" fill="#1a1a1a" stroke="#1a1a1a" stroke-width="0.3">Estimated Fraction</text>
<text x="72.5" y="807.8" font-size="8.0" text-anchor="end" textLength="17.6" lengthAdjust="spacingAndGlyphs" fill="#333" stroke="#333" stroke-width="0.2">0.57</text>
<text x="72.5" y="1340.7" font-size="8.0" text-anchor="end" textLength="24.2" lengthAdjust="spacingAndGlyphs" fill="#333" stroke="#333" stroke-width="0.2">−0.03</text>
<path d="M109.3 1026.3V1266.3M109.3 1295.3V1311.2M104.5 1026.3H114.1M104.5 1311.2H114.1" stroke="#7a7a7a" stroke-width="1.6" fill="none"/>
<rect x="100" y="1266.3" width="18.5" height="29" fill="#00FAB4" stroke="rgba(0,0,0,0.55)" stroke-width="1.1"/>
<path d="M100 1284.1H118.5" stroke="rgba(0,0,255,0.5)" stroke-width="2.2"/>
<text transform="translate(109.8,1007.4) rotate(-45)" font-size="7.4" text-anchor="middle" dy="2.6" textLength="27.7" lengthAdjust="spacingAndGlyphs" fill="#333" stroke="#333" stroke-width="0.15">n=202</text>
<path d="M131.1 848.2V1191.3M131.1 1287.3V1311.2M126.3 848.2H135.9M126.3 1311.2H135.9" stroke="#7a7a7a" stroke-width="1.6" fill="none"/>
<rect x="121.8" y="1191.3" width="18.5" height="96" fill="#D35400" stroke="rgba(0,0,0,0.55)" stroke-width="1.1"/>
<path d="M121.8 1247.7H140.3" stroke="rgba(0,0,255,0.5)" stroke-width="2.2"/>
<text transform="translate(131.6,829.3) rotate(-45)" font-size="7.4" text-anchor="middle" dy="2.6" textLength="27.7" lengthAdjust="spacingAndGlyphs" fill="#333" stroke="#333" stroke-width="0.15">n=211</text>
<path d="M153.5 1008.7V1183.7M153.5 1299.9V1311.2M148.7 1008.7H158.3M148.7 1311.2H158.3" stroke="#7a7a7a" stroke-width="1.6" fill="none"/>
<rect x="144.2" y="1183.7" width="18.5" height="116.2" fill="#00C8FF" stroke="rgba(0,0,0,0.55)" stroke-width="1.1"/>
<path d="M144.2 1235.3H162.8" stroke="rgba(0,0,255,0.5)" stroke-width="2.2"/>
<text transform="translate(154,991.6) rotate(-45)" font-size="7.4" text-anchor="middle" dy="2.6" textLength="22.5" lengthAdjust="spacingAndGlyphs" fill="#333" stroke="#333" stroke-width="0.15">n=32</text>
<path d="M190 1224.5V1280.2M190 1309V1310.7M185.2 1224.5H194.8M185.2 1310.7H194.8" stroke="#7a7a7a" stroke-width="1.6" fill="none"/>
<rect x="179" y="1280.2" width="22" height="28.8" fill="#00FAB4" stroke="rgba(0,0,0,0.55)" stroke-width="1.1"/>
<path d="M179 1292.3H201" stroke="rgba(0,0,255,0.5)" stroke-width="2.2"/>
<text transform="translate(190.5,1207.4) rotate(-45)" font-size="7.4" text-anchor="middle" dy="2.6" textLength="22.5" lengthAdjust="spacingAndGlyphs" fill="#333" stroke="#333" stroke-width="0.15">n=15</text>
<path d="M219.4 867.9V997.6M219.4 1087.2V1240.7M214.6 867.9H224.2M214.6 1240.7H224.2" stroke="#7a7a7a" stroke-width="1.6" fill="none"/>
<rect x="208.4" y="997.6" width="22" height="89.6" fill="#E600E6" stroke="rgba(0,0,0,0.55)" stroke-width="1.1"/>
<path d="M208.4 1046H230.4" stroke="rgba(0,0,255,0.5)" stroke-width="2.2"/>
<text transform="translate(219.9,850.8) rotate(-45)" font-size="7.4" text-anchor="middle" dy="2.6" textLength="22.5" lengthAdjust="spacingAndGlyphs" fill="#333" stroke="#333" stroke-width="0.15">n=15</text>
<path d="M263.6 1194.1V1280.8M263.6 1305.7V1311.2M258.8 1194.1H268.4M258.8 1311.2H268.4" stroke="#7a7a7a" stroke-width="1.6" fill="none"/>
<rect x="252.6" y="1280.8" width="22" height="24.9" fill="#00FAB4" stroke="rgba(0,0,0,0.55)" stroke-width="1.1"/>
<path d="M252.6 1296H274.6" stroke="rgba(0,0,255,0.5)" stroke-width="2.2"/>
<text transform="translate(264.1,1177) rotate(-45)" font-size="7.4" text-anchor="middle" dy="2.6" textLength="22.5" lengthAdjust="spacingAndGlyphs" fill="#333" stroke="#333" stroke-width="0.15">n=35</text>
<path d="M293 1079.3V1183.3M293 1262.4V1302.5M288.2 1079.3H297.8M288.2 1302.5H297.8" stroke="#7a7a7a" stroke-width="1.6" fill="none"/>
<rect x="282" y="1183.3" width="22" height="79.1" fill="#FF005F" stroke="rgba(0,0,0,0.55)" stroke-width="1.1"/>
<path d="M282 1225.1H304" stroke="rgba(0,0,255,0.5)" stroke-width="2.2"/>
<text transform="translate(293.5,1062.2) rotate(-45)" font-size="7.4" text-anchor="middle" dy="2.6" textLength="22.5" lengthAdjust="spacingAndGlyphs" fill="#333" stroke="#333" stroke-width="0.15">n=35</text>
<path d="M336.8 1288.4V1292.3M336.8 1304.7V1305.7M332 1288.4H341.6M332 1305.7H341.6" stroke="#7a7a7a" stroke-width="1.6" fill="none"/>
<rect x="325.8" y="1292.3" width="22" height="12.4" fill="#00FAB4" stroke="rgba(0,0,0,0.55)" stroke-width="1.1"/>
<path d="M325.8 1298.2H347.8" stroke="rgba(0,0,255,0.5)" stroke-width="2.2"/>
<text transform="translate(337.3,1273.2) rotate(-45)" font-size="7.4" text-anchor="middle" dy="2.6" textLength="17.3" lengthAdjust="spacingAndGlyphs" fill="#333" stroke="#333" stroke-width="0.15">n=5</text>
<path d="M366.4 1027.4V1214.5M366.4 1276.3V1303.2M361.6 1027.4H371.2M361.6 1303.2H371.2" stroke="#7a7a7a" stroke-width="1.6" fill="none"/>
<rect x="355.4" y="1214.5" width="22" height="61.8" fill="#FF005F" stroke="rgba(0,0,0,0.55)" stroke-width="1.1"/>
<path d="M355.4 1241.9H377.4" stroke="rgba(0,0,255,0.5)" stroke-width="2.2"/>
<text transform="translate(366.9,1010.3) rotate(-45)" font-size="7.4" text-anchor="middle" dy="2.6" textLength="22.5" lengthAdjust="spacingAndGlyphs" fill="#333" stroke="#333" stroke-width="0.15">n=50</text>
<path d="M410.5 1173V1243M410.5 1285.2V1311M405.7 1173H415.3M405.7 1311H415.3" stroke="#7a7a7a" stroke-width="1.6" fill="none"/>
<rect x="399.5" y="1243" width="22" height="42.2" fill="#00FAB4" stroke="rgba(0,0,0,0.55)" stroke-width="1.1"/>
<path d="M399.5 1271.8H421.5" stroke="rgba(0,0,255,0.5)" stroke-width="2.2"/>
<text transform="translate(411,1155.9) rotate(-45)" font-size="7.4" text-anchor="middle" dy="2.6" textLength="22.5" lengthAdjust="spacingAndGlyphs" fill="#333" stroke="#333" stroke-width="0.15">n=50</text>
<path d="M440 960.7V1155.9M440 1223.3V1279.4M435.2 960.7H444.8M435.2 1279.4H444.8" stroke="#7a7a7a" stroke-width="1.6" fill="none"/>
<rect x="429" y="1155.9" width="22" height="67.4" fill="#FF005F" stroke="rgba(0,0,0,0.55)" stroke-width="1.1"/>
<path d="M429 1188.5H451" stroke="rgba(0,0,255,0.5)" stroke-width="2.2"/>
<text transform="translate(440.5,943.6) rotate(-45)" font-size="7.4" text-anchor="middle" dy="2.6" textLength="22.5" lengthAdjust="spacingAndGlyphs" fill="#333" stroke="#333" stroke-width="0.15">n=50</text>
<path d="M476.8 1244.6V1285.7M476.8 1311V1311M472 1244.6H481.6M472 1311H481.6" stroke="#7a7a7a" stroke-width="1.6" fill="none"/>
<rect x="467.6" y="1285.7" width="18.5" height="25.3" fill="#00FAB4" stroke="rgba(0,0,0,0.55)" stroke-width="1.1"/>
<path d="M467.6 1304.8H486.1" stroke="rgba(0,0,255,0.5)" stroke-width="2.2"/>
<text transform="translate(477.3,1227.5) rotate(-45)" font-size="7.4" text-anchor="middle" dy="2.6" textLength="22.5" lengthAdjust="spacingAndGlyphs" fill="#333" stroke="#333" stroke-width="0.15">n=20</text>
<path d="M498.8 1067.5V1170.5M498.8 1246.4V1307.7M494 1067.5H503.6M494 1307.7H503.6" stroke="#7a7a7a" stroke-width="1.6" fill="none"/>
<rect x="489.6" y="1170.5" width="18.5" height="75.9" fill="#FF005F" stroke="rgba(0,0,0,0.55)" stroke-width="1.1"/>
<path d="M489.6 1213.2H508.1" stroke="rgba(0,0,255,0.5)" stroke-width="2.2"/>
<text transform="translate(499.3,1050.4) rotate(-45)" font-size="7.4" text-anchor="middle" dy="2.6" textLength="22.5" lengthAdjust="spacingAndGlyphs" fill="#333" stroke="#333" stroke-width="0.15">n=20</text>
<path d="M520.7 1067.5V1170.5M520.7 1246.4V1307.7M515.9 1067.5H525.5M515.9 1307.7H525.5" stroke="#7a7a7a" stroke-width="1.6" fill="none"/>
<rect x="511.5" y="1170.5" width="18.5" height="75.9" fill="#0000DD" stroke="rgba(0,0,0,0.55)" stroke-width="1.1"/>
<path d="M511.5 1213.2H530" stroke="rgba(0,0,255,0.5)" stroke-width="2.2"/>
<text transform="translate(521.2,1050.4) rotate(-45)" font-size="7.4" text-anchor="middle" dy="2.6" textLength="22.5" lengthAdjust="spacingAndGlyphs" fill="#333" stroke="#333" stroke-width="0.15">n=20</text>
<path d="M557.5 1255V1311M557.5 1311V1311M552.7 1255H562.3M552.7 1311H562.3" stroke="#7a7a7a" stroke-width="1.6" fill="none"/>
<rect x="546.5" y="1311" width="22" height="0" fill="#00FAB4" stroke="rgba(0,0,0,0.55)" stroke-width="1.1"/>
<path d="M546.5 1311H568.5" stroke="rgba(0,0,255,0.5)" stroke-width="2.2"/>
<text transform="translate(558,1237.9) rotate(-45)" font-size="7.4" text-anchor="middle" dy="2.6" textLength="22.5" lengthAdjust="spacingAndGlyphs" fill="#333" stroke="#333" stroke-width="0.15">n=21</text>
<path d="M587 1066.2V1216.8M587 1311V1311M582.2 1066.2H591.8M582.2 1311H591.8" stroke="#7a7a7a" stroke-width="1.6" fill="none"/>
<rect x="576" y="1216.8" width="22" height="94.2" fill="#FF005F" stroke="rgba(0,0,0,0.55)" stroke-width="1.1"/>
<path d="M576 1271.8H598" stroke="rgba(0,0,255,0.5)" stroke-width="2.2"/>
<text transform="translate(587.5,1049.1) rotate(-45)" font-size="7.4" text-anchor="middle" dy="2.6" textLength="22.5" lengthAdjust="spacingAndGlyphs" fill="#333" stroke="#333" stroke-width="0.15">n=21</text>
<rect x="80" y="804.6" width="543.5" height="532.9" fill="none" stroke="#8c8c8c" stroke-width="1.7"/>
<path d="M131.3 1337.5v3.5M204.6 1337.5v3.5M277.9 1337.5v3.5M351.2 1337.5v3.5M424.6 1337.5v3.5M497.9 1337.5v3.5M571.3 1337.5v3.5M80 804.6h-3.5M80 1337.5h-3.5" stroke="#8c8c8c" stroke-width="1.2"/>
<text transform="translate(131.3,1357.1) rotate(-30)" font-size="10.5" text-anchor="middle" dy="3.6" textLength="31.6" lengthAdjust="spacingAndGlyphs" fill="#222" stroke="#222" stroke-width="0.3">LIRI-JP</text>
<text transform="translate(204.6,1363.8) rotate(-30)" font-size="10.5" text-anchor="middle" dy="3.6" textLength="58.6" lengthAdjust="spacingAndGlyphs" fill="#222" stroke="#222" stroke-width="0.3">GSE119336</text>
<text transform="translate(277.9,1363.8) rotate(-30)" font-size="10.5" text-anchor="middle" dy="3.6" textLength="58.6" lengthAdjust="spacingAndGlyphs" fill="#222" stroke="#222" stroke-width="0.3">GSE124535</text>
<text transform="translate(351.2,1362.2) rotate(-30)" font-size="10.5" text-anchor="middle" dy="3.6" textLength="52.2" lengthAdjust="spacingAndGlyphs" fill="#222" stroke="#222" stroke-width="0.3">GSE65485</text>
<text transform="translate(424.6,1362.2) rotate(-30)" font-size="10.5" text-anchor="middle" dy="3.6" textLength="52.2" lengthAdjust="spacingAndGlyphs" fill="#222" stroke="#222" stroke-width="0.3">GSE77314</text>
<text transform="translate(497.9,1362.2) rotate(-30)" font-size="10.5" text-anchor="middle" dy="3.6" textLength="52.2" lengthAdjust="spacingAndGlyphs" fill="#222" stroke="#222" stroke-width="0.3">GSE77509</text>
<text transform="translate(571.3,1362.2) rotate(-30)" font-size="10.5" text-anchor="middle" dy="3.6" textLength="52.2" lengthAdjust="spacingAndGlyphs" fill="#222" stroke="#222" stroke-width="0.3">GSE94660</text>
<rect x="409.6" y="809.8" width="209.6" height="77" rx="2" fill="rgba(255,255,255,0.85)" stroke="#dcdcdc" stroke-width="1"/>
<rect x="413.1" y="813.3" width="18" height="6.6" fill="#D35400"/>
<text x="437.1" y="819.7" font-size="7.7" textLength="89.3" lengthAdjust="spacingAndGlyphs" fill="#2a2a2a" stroke="#2a2a2a" stroke-width="0.15">Primary Liver Cancer</text>
<rect x="413.1" y="825.8" width="18" height="6.6" fill="#00C8FF"/>
<text x="437.1" y="832.2" font-size="7.7" textLength="101.6" lengthAdjust="spacingAndGlyphs" fill="#2a2a2a" stroke="#2a2a2a" stroke-width="0.15">Secondary Liver Cancer</text>
<rect x="413.1" y="838.2" width="18" height="6.6" fill="#00FAB4"/>
<text x="437.1" y="844.6" font-size="7.7" textLength="69.3" lengthAdjust="spacingAndGlyphs" fill="#2a2a2a" stroke="#2a2a2a" stroke-width="0.15">Non-Tumor Liver</text>
<rect x="413.1" y="850.7" width="18" height="6.6" fill="#FF005F"/>
<text x="437.1" y="857.1" font-size="7.7" textLength="133" lengthAdjust="spacingAndGlyphs" fill="#2a2a2a" stroke="#2a2a2a" stroke-width="0.15">Heptocellular Carcinoma (HCC)</text>
<rect x="413.1" y="863.1" width="18" height="6.6" fill="#0000DD"/>
<text x="437.1" y="869.5" font-size="7.7" textLength="178.6" lengthAdjust="spacingAndGlyphs" fill="#2a2a2a" stroke="#2a2a2a" stroke-width="0.15">Portal Vein Tumor Thrombosis (HCC-PVTT)</text>
<rect x="413.1" y="875.6" width="18" height="6.6" fill="#E600E6"/>
<text x="437.1" y="882" font-size="7.7" textLength="108.8" lengthAdjust="spacingAndGlyphs" fill="#2a2a2a" stroke="#2a2a2a" stroke-width="0.15">Cholagiocarcinoma (CCA)</text>
<text x="689" y="789" font-size="28" fill="#111">D</text>
<text x="1004" y="806.8" font-size="16.5" text-anchor="middle" textLength="403.1" lengthAdjust="spacingAndGlyphs" fill="#1a1a1a" stroke="#1a1a1a" stroke-width="0.25">Non-inflammatory Macrophages (Normal Liver Atlas)</text>
<text transform="translate(693,1077.7) rotate(-90)" font-size="18.4" text-anchor="middle" textLength="160.2" lengthAdjust="spacingAndGlyphs" fill="#1a1a1a" stroke="#1a1a1a" stroke-width="0.3">Estimated Fraction</text>
<text x="724.3" y="814.5" font-size="8.0" text-anchor="end" textLength="17.6" lengthAdjust="spacingAndGlyphs" fill="#333" stroke="#333" stroke-width="0.2">0.21</text>
<text x="724.3" y="1347.2" font-size="8.0" text-anchor="end" textLength="24.2" lengthAdjust="spacingAndGlyphs" fill="#333" stroke="#333" stroke-width="0.2">−0.01</text>
<path d="M761.1 905.3V1152.7M761.1 1242.2V1320.7M756.3 905.3H765.9M756.3 1320.7H765.9" stroke="#7a7a7a" stroke-width="1.6" fill="none"/>
<rect x="751.8" y="1152.7" width="18.5" height="89.5" fill="#00FAB4" stroke="rgba(0,0,0,0.55)" stroke-width="1.1"/>
<path d="M751.8 1206.2H770.3" stroke="rgba(0,0,255,0.5)" stroke-width="2.2"/>
<text transform="translate(761.6,886.4) rotate(-45)" font-size="7.4" text-anchor="middle" dy="2.6" textLength="27.7" lengthAdjust="spacingAndGlyphs" fill="#333" stroke="#333" stroke-width="0.15">n=202</text>
<path d="M782.9 851.3V1063.4M782.9 1195V1320.7M778.1 851.3H787.7M778.1 1320.7H787.7" stroke="#7a7a7a" stroke-width="1.6" fill="none"/>
<rect x="773.6" y="1063.4" width="18.5" height="131.6" fill="#D35400" stroke="rgba(0,0,0,0.55)" stroke-width="1.1"/>
<path d="M773.6 1131H792.1" stroke="rgba(0,0,255,0.5)" stroke-width="2.2"/>
<text transform="translate(783.4,832.4) rotate(-45)" font-size="7.4" text-anchor="middle" dy="2.6" textLength="27.7" lengthAdjust="spacingAndGlyphs" fill="#333" stroke="#333" stroke-width="0.15">n=211</text>
<path d="M805.3 850V1052.6M805.3 1154.2V1320.7M800.5 850H810.1M800.5 1320.7H810.1" stroke="#7a7a7a" stroke-width="1.6" fill="none"/>
<rect x="796" y="1052.6" width="18.5" height="101.6" fill="#00C8FF" stroke="rgba(0,0,0,0.55)" stroke-width="1.1"/>
<path d="M796 1119.8H814.5" stroke="rgba(0,0,255,0.5)" stroke-width="2.2"/>
<text transform="translate(805.8,832.9) rotate(-45)" font-size="7.4" text-anchor="middle" dy="2.6" textLength="22.5" lengthAdjust="spacingAndGlyphs" fill="#333" stroke="#333" stroke-width="0.15">n=32</text>
<path d="M841.8 1007.4V1096.8M841.8 1205.8V1320.7M837 1007.4H846.6M837 1320.7H846.6" stroke="#7a7a7a" stroke-width="1.6" fill="none"/>
<rect x="830.8" y="1096.8" width="22" height="109" fill="#00FAB4" stroke="rgba(0,0,0,0.55)" stroke-width="1.1"/>
<path d="M830.8 1137.1H852.8" stroke="rgba(0,0,255,0.5)" stroke-width="2.2"/>
<text transform="translate(842.3,990.3) rotate(-45)" font-size="7.4" text-anchor="middle" dy="2.6" textLength="22.5" lengthAdjust="spacingAndGlyphs" fill="#333" stroke="#333" stroke-width="0.15">n=15</text>
<path d="M871.2 1143V1208.6M871.2 1301.2V1320.7M866.4 1143H876M866.4 1320.7H876" stroke="#7a7a7a" stroke-width="1.6" fill="none"/>
<rect x="860.2" y="1208.6" width="22" height="92.6" fill="#E600E6" stroke="rgba(0,0,0,0.55)" stroke-width="1.1"/>
<path d="M860.2 1271.9H882.2" stroke="rgba(0,0,255,0.5)" stroke-width="2.2"/>
<text transform="translate(871.7,1125.9) rotate(-45)" font-size="7.4" text-anchor="middle" dy="2.6" textLength="22.5" lengthAdjust="spacingAndGlyphs" fill="#333" stroke="#333" stroke-width="0.15">n=15</text>
<path d="M915.4 1051.6V1177M915.4 1252.4V1280.1M910.6 1051.6H920.2M910.6 1280.1H920.2" stroke="#7a7a7a" stroke-width="1.6" fill="none"/>
<rect x="904.4" y="1177" width="22" height="75.4" fill="#00FAB4" stroke="rgba(0,0,0,0.55)" stroke-width="1.1"/>
<path d="M904.4 1223.8H926.4" stroke="rgba(0,0,255,0.5)" stroke-width="2.2"/>
<text transform="translate(915.9,1034.5) rotate(-45)" font-size="7.4" text-anchor="middle" dy="2.6" textLength="22.5" lengthAdjust="spacingAndGlyphs" fill="#333" stroke="#333" stroke-width="0.15">n=35</text>
<path d="M944.8 1071.1V1151.6M944.8 1240.5V1320.7M940 1071.1H949.6M940 1320.7H949.6" stroke="#7a7a7a" stroke-width="1.6" fill="none"/>
<rect x="933.8" y="1151.6" width="22" height="88.9" fill="#FF005F" stroke="rgba(0,0,0,0.55)" stroke-width="1.1"/>
<path d="M933.8 1201.5H955.8" stroke="rgba(0,0,255,0.5)" stroke-width="2.2"/>
<text transform="translate(945.3,1054) rotate(-45)" font-size="7.4" text-anchor="middle" dy="2.6" textLength="22.5" lengthAdjust="spacingAndGlyphs" fill="#333" stroke="#333" stroke-width="0.15">n=35</text>
<path d="M988.6 1220.3V1229.2M988.6 1270.8V1309.8M983.8 1220.3H993.4M983.8 1309.8H993.4" stroke="#7a7a7a" stroke-width="1.6" fill="none"/>
<rect x="977.6" y="1229.2" width="22" height="41.6" fill="#00FAB4" stroke="rgba(0,0,0,0.55)" stroke-width="1.1"/>
<path d="M977.6 1270.8H999.6" stroke="rgba(0,0,255,0.5)" stroke-width="2.2"/>
<text transform="translate(989.1,1205.1) rotate(-45)" font-size="7.4" text-anchor="middle" dy="2.6" textLength="17.3" lengthAdjust="spacingAndGlyphs" fill="#333" stroke="#333" stroke-width="0.15">n=5</text>
<path d="M1018.2 907.2V1146.5M1018.2 1252V1320.5M1013.4 907.2H1023M1013.4 1320.5H1023" stroke="#7a7a7a" stroke-width="1.6" fill="none"/>
<rect x="1007.2" y="1146.5" width="22" height="105.5" fill="#FF005F" stroke="rgba(0,0,0,0.55)" stroke-width="1.1"/>
<path d="M1007.2 1206.5H1029.2" stroke="rgba(0,0,255,0.5)" stroke-width="2.2"/>
<text transform="translate(1018.7,890.1) rotate(-45)" font-size="7.4" text-anchor="middle" dy="2.6" textLength="22.5" lengthAdjust="spacingAndGlyphs" fill="#333" stroke="#333" stroke-width="0.15">n=50</text>
<path d="M1062.3 1023.4V1139.1M1062.3 1237V1320.5M1057.5 1023.4H1067.1M1057.5 1320.5H1067.1" stroke="#7a7a7a" stroke-width="1.6" fill="none"/>
<rect x="1051.3" y="1139.1" width="22" height="97.9" fill="#00FAB4" stroke="rgba(0,0,0,0.55)" stroke-width="1.1"/>
<path d="M1051.3 1164.9H1073.3" stroke="rgba(0,0,255,0.5)" stroke-width="2.2"/>
<text transform="translate(1062.8,1006.3) rotate(-45)" font-size="7.4" text-anchor="middle" dy="2.6" textLength="22.5" lengthAdjust="spacingAndGlyphs" fill="#333" stroke="#333" stroke-width="0.15">n=50</text>
<path d="M1091.8 1075.1V1258.8M1091.8 1319.4V1320.5M1087 1075.1H1096.6M1087 1320.5H1096.6" stroke="#7a7a7a" stroke-width="1.6" fill="none"/>
<rect x="1080.8" y="1258.8" width="22" height="60.6" fill="#FF005F" stroke="rgba(0,0,0,0.55)" stroke-width="1.1"/>
<path d="M1080.8 1293.5H1102.8" stroke="rgba(0,0,255,0.5)" stroke-width="2.2"/>
<text transform="translate(1092.3,1058) rotate(-45)" font-size="7.4" text-anchor="middle" dy="2.6" textLength="22.5" lengthAdjust="spacingAndGlyphs" fill="#333" stroke="#333" stroke-width="0.15">n=50</text>
<path d="M1128.6 1140.9V1191.4M1128.6 1253.8V1311.5M1123.8 1140.9H1133.4M1123.8 1311.5H1133.4" stroke="#7a7a7a" stroke-width="1.6" fill="none"/>
<rect x="1119.3" y="1191.4" width="18.5" height="62.4" fill="#00FAB4" stroke="rgba(0,0,0,0.55)" stroke-width="1.1"/>
<path d="M1119.3 1217.7H1137.8" stroke="rgba(0,0,255,0.5)" stroke-width="2.2"/>
<text transform="translate(1129.1,1123.8) rotate(-45)" font-size="7.4" text-anchor="middle" dy="2.6" textLength="22.5" lengthAdjust="spacingAndGlyphs" fill="#333" stroke="#333" stroke-width="0.15">n=20</text>
<path d="M1150.6 1061.7V1154.8M1150.6 1250.4V1320.5M1145.8 1061.7H1155.4M1145.8 1320.5H1155.4" stroke="#7a7a7a" stroke-width="1.6" fill="none"/>
<rect x="1141.3" y="1154.8" width="18.5" height="95.6" fill="#FF005F" stroke="rgba(0,0,0,0.55)" stroke-width="1.1"/>
<path d="M1141.3 1224.6H1159.8" stroke="rgba(0,0,255,0.5)" stroke-width="2.2"/>
<text transform="translate(1151.1,1044.6) rotate(-45)" font-size="7.4" text-anchor="middle" dy="2.6" textLength="22.5" lengthAdjust="spacingAndGlyphs" fill="#333" stroke="#333" stroke-width="0.15">n=20</text>
<path d="M1172.5 1061.7V1154.8M1172.5 1250.4V1320.5M1167.7 1061.7H1177.3M1167.7 1320.5H1177.3" stroke="#7a7a7a" stroke-width="1.6" fill="none"/>
<rect x="1163.2" y="1154.8" width="18.5" height="95.6" fill="#0000DD" stroke="rgba(0,0,0,0.55)" stroke-width="1.1"/>
<path d="M1163.2 1224.6H1181.8" stroke="rgba(0,0,255,0.5)" stroke-width="2.2"/>
<text transform="translate(1173,1044.6) rotate(-45)" font-size="7.4" text-anchor="middle" dy="2.6" textLength="22.5" lengthAdjust="spacingAndGlyphs" fill="#333" stroke="#333" stroke-width="0.15">n=20</text>
<path d="M1209.3 1066.4V1123M1209.3 1179.1V1228M1204.5 1066.4H1214.1M1204.5 1228H1214.1" stroke="#7a7a7a" stroke-width="1.6" fill="none"/>
<rect x="1198.3" y="1123" width="22" height="56.1" fill="#00FAB4" stroke="rgba(0,0,0,0.55)" stroke-width="1.1"/>
<path d="M1198.3 1150.3H1220.3" stroke="rgba(0,0,255,0.5)" stroke-width="2.2"/>
<text transform="translate(1209.8,1049.3) rotate(-45)" font-size="7.4" text-anchor="middle" dy="2.6" textLength="22.5" lengthAdjust="spacingAndGlyphs" fill="#333" stroke="#333" stroke-width="0.15">n=21</text>
<path d="M1238.8 1081V1159.3M1238.8 1197.5V1235.2M1234 1081H1243.6M1234 1235.2H1243.6" stroke="#7a7a7a" stroke-width="1.6" fill="none"/>
<rect x="1227.8" y="1159.3" width="22" height="38.2" fill="#FF005F" stroke="rgba(0,0,0,0.55)" stroke-width="1.1"/>
<path d="M1227.8 1184.7H1249.8" stroke="rgba(0,0,255,0.5)" stroke-width="2.2"/>
<text transform="translate(1239.3,1063.9) rotate(-45)" font-size="7.4" text-anchor="middle" dy="2.6" textLength="22.5" lengthAdjust="spacingAndGlyphs" fill="#333" stroke="#333" stroke-width="0.15">n=21</text>
<rect x="731.8" y="811.3" width="544.4" height="532.7" fill="none" stroke="#8c8c8c" stroke-width="1.7"/>
<path d="M783.1 1344v3.5M856.4 1344v3.5M929.7 1344v3.5M1003 1344v3.5M1076.4 1344v3.5M1149.7 1344v3.5M1223.1 1344v3.5M731.8 811.3h-3.5M731.8 1344h-3.5" stroke="#8c8c8c" stroke-width="1.2"/>
<text transform="translate(783.1,1363.6) rotate(-30)" font-size="10.5" text-anchor="middle" dy="3.6" textLength="31.6" lengthAdjust="spacingAndGlyphs" fill="#222" stroke="#222" stroke-width="0.3">LIRI-JP</text>
<text transform="translate(856.4,1370.3) rotate(-30)" font-size="10.5" text-anchor="middle" dy="3.6" textLength="58.6" lengthAdjust="spacingAndGlyphs" fill="#222" stroke="#222" stroke-width="0.3">GSE119336</text>
<text transform="translate(929.7,1370.3) rotate(-30)" font-size="10.5" text-anchor="middle" dy="3.6" textLength="58.6" lengthAdjust="spacingAndGlyphs" fill="#222" stroke="#222" stroke-width="0.3">GSE124535</text>
<text transform="translate(1003,1368.7) rotate(-30)" font-size="10.5" text-anchor="middle" dy="3.6" textLength="52.2" lengthAdjust="spacingAndGlyphs" fill="#222" stroke="#222" stroke-width="0.3">GSE65485</text>
<text transform="translate(1076.4,1368.7) rotate(-30)" font-size="10.5" text-anchor="middle" dy="3.6" textLength="52.2" lengthAdjust="spacingAndGlyphs" fill="#222" stroke="#222" stroke-width="0.3">GSE77314</text>
<text transform="translate(1149.7,1368.7) rotate(-30)" font-size="10.5" text-anchor="middle" dy="3.6" textLength="52.2" lengthAdjust="spacingAndGlyphs" fill="#222" stroke="#222" stroke-width="0.3">GSE77509</text>
<text transform="translate(1223.1,1368.7) rotate(-30)" font-size="10.5" text-anchor="middle" dy="3.6" textLength="52.2" lengthAdjust="spacingAndGlyphs" fill="#222" stroke="#222" stroke-width="0.3">GSE94660</text>
<rect x="1062.3" y="816.5" width="209.6" height="77" rx="2" fill="rgba(255,255,255,0.85)" stroke="#dcdcdc" stroke-width="1"/>
<rect x="1065.8" y="820" width="18" height="6.6" fill="#D35400"/>
<text x="1089.8" y="826.4" font-size="7.7" textLength="89.3" lengthAdjust="spacingAndGlyphs" fill="#2a2a2a" stroke="#2a2a2a" stroke-width="0.15">Primary Liver Cancer</text>
<rect x="1065.8" y="832.5" width="18" height="6.6" fill="#00C8FF"/>
<text x="1089.8" y="838.9" font-size="7.7" textLength="101.6" lengthAdjust="spacingAndGlyphs" fill="#2a2a2a" stroke="#2a2a2a" stroke-width="0.15">Secondary Liver Cancer</text>
<rect x="1065.8" y="844.9" width="18" height="6.6" fill="#00FAB4"/>
<text x="1089.8" y="851.3" font-size="7.7" textLength="69.3" lengthAdjust="spacingAndGlyphs" fill="#2a2a2a" stroke="#2a2a2a" stroke-width="0.15">Non-Tumor Liver</text>
<rect x="1065.8" y="857.4" width="18" height="6.6" fill="#FF005F"/>
<text x="1089.8" y="863.8" font-size="7.7" textLength="133" lengthAdjust="spacingAndGlyphs" fill="#2a2a2a" stroke="#2a2a2a" stroke-width="0.15">Heptocellular Carcinoma (HCC)</text>
<rect x="1065.8" y="869.8" width="18" height="6.6" fill="#0000DD"/>
<text x="1089.8" y="876.2" font-size="7.7" textLength="178.6" lengthAdjust="spacingAndGlyphs" fill="#2a2a2a" stroke="#2a2a2a" stroke-width="0.15">Portal Vein Tumor Thrombosis (HCC-PVTT)</text>
<rect x="1065.8" y="882.2" width="18" height="6.6" fill="#E600E6"/>
<text x="1089.8" y="888.6" font-size="7.7" textLength="108.8" lengthAdjust="spacingAndGlyphs" fill="#2a2a2a" stroke="#2a2a2a" stroke-width="0.15">Cholagiocarcinoma (CCA)</text>
<text x="38" y="1441" font-size="28" fill="#111">E</text>
<text x="351.8" y="1452.6" font-size="18.3" text-anchor="middle" textLength="275.7" lengthAdjust="spacingAndGlyphs" fill="#1a1a1a" stroke="#1a1a1a" stroke-width="0.25">Kupffer Cells (TME-Stroma Atlas)</text>
<text transform="translate(41.2,1723.8) rotate(-90)" font-size="18.4" text-anchor="middle" textLength="160.2" lengthAdjust="spacingAndGlyphs" fill="#1a1a1a" stroke="#1a1a1a" stroke-width="0.3">Estimated Fraction</text>
<text x="72.5" y="1461.4" font-size="8.0" text-anchor="end" textLength="17.6" lengthAdjust="spacingAndGlyphs" fill="#333" stroke="#333" stroke-width="0.2">0.39</text>
<text x="72.5" y="1992.7" font-size="8.0" text-anchor="end" textLength="24.2" lengthAdjust="spacingAndGlyphs" fill="#333" stroke="#333" stroke-width="0.2">−0.02</text>
<path d="M109.3 1545.5V1932.6M109.3 1964V1964M104.5 1545.5H114.1M104.5 1964H114.1" stroke="#7a7a7a" stroke-width="1.6" fill="none"/>
<rect x="100" y="1932.6" width="18.5" height="31.4" fill="#00FAB4" stroke="rgba(0,0,0,0.55)" stroke-width="1.1"/>
<path d="M100 1947.7H118.5" stroke="rgba(0,0,255,0.5)" stroke-width="2.2"/>
<text transform="translate(109.8,1526.6) rotate(-45)" font-size="7.4" text-anchor="middle" dy="2.6" textLength="27.7" lengthAdjust="spacingAndGlyphs" fill="#333" stroke="#333" stroke-width="0.15">n=202</text>
<path d="M131.1 1518.4V1785M131.1 1956.8V1964M126.3 1518.4H135.9M126.3 1964H135.9" stroke="#7a7a7a" stroke-width="1.6" fill="none"/>
<rect x="121.8" y="1785" width="18.5" height="171.8" fill="#D35400" stroke="rgba(0,0,0,0.55)" stroke-width="1.1"/>
<path d="M121.8 1881.6H140.3" stroke="rgba(0,0,255,0.5)" stroke-width="2.2"/>
<text transform="translate(131.6,1499.5) rotate(-45)" font-size="7.4" text-anchor="middle" dy="2.6" textLength="27.7" lengthAdjust="spacingAndGlyphs" fill="#333" stroke="#333" stroke-width="0.15">n=211</text>
<path d="M153.5 1643.7V1797.5M153.5 1915.6V1964M148.7 1643.7H158.3M148.7 1964H158.3" stroke="#7a7a7a" stroke-width="1.6" fill="none"/>
<rect x="144.2" y="1797.5" width="18.5" height="118.1" fill="#00C8FF" stroke="rgba(0,0,0,0.55)" stroke-width="1.1"/>
<path d="M144.2 1858.9H162.8" stroke="rgba(0,0,255,0.5)" stroke-width="2.2"/>
<text transform="translate(154,1626.6) rotate(-45)" font-size="7.4" text-anchor="middle" dy="2.6" textLength="22.5" lengthAdjust="spacingAndGlyphs" fill="#333" stroke="#333" stroke-width="0.15">n=32</text>
<path d="M190 1571.3V1696.3M190 1785.2V1862.5M185.2 1571.3H194.8M185.2 1862.5H194.8" stroke="#7a7a7a" stroke-width="1.6" fill="none"/>
<rect x="179" y="1696.3" width="22" height="88.9" fill="#00FAB4" stroke="rgba(0,0,0,0.55)" stroke-width="1.1"/>
<path d="M179 1733.6H201" stroke="rgba(0,0,255,0.5)" stroke-width="2.2"/>
<text transform="translate(190.5,1554.2) rotate(-45)" font-size="7.4" text-anchor="middle" dy="2.6" textLength="22.5" lengthAdjust="spacingAndGlyphs" fill="#333" stroke="#333" stroke-width="0.15">n=15</text>
<path d="M219.4 1876V1928M219.4 1964V1964M214.6 1876H224.2M214.6 1964H224.2" stroke="#7a7a7a" stroke-width="1.6" fill="none"/>
<rect x="208.4" y="1928" width="22" height="36" fill="#E600E6" stroke="rgba(0,0,0,0.55)" stroke-width="1.1"/>
<path d="M208.4 1960.1H230.4" stroke="rgba(0,0,255,0.5)" stroke-width="2.2"/>
<text transform="translate(219.9,1858.9) rotate(-45)" font-size="7.4" text-anchor="middle" dy="2.6" textLength="22.5" lengthAdjust="spacingAndGlyphs" fill="#333" stroke="#333" stroke-width="0.15">n=15</text>
<path d="M263.6 1893.3V1942.3M263.6 1964V1964M258.8 1893.3H268.4M258.8 1964H268.4" stroke="#7a7a7a" stroke-width="1.6" fill="none"/>
<rect x="252.6" y="1942.3" width="22" height="21.7" fill="#00FAB4" stroke="rgba(0,0,0,0.55)" stroke-width="1.1"/>
<path d="M252.6 1964H274.6" stroke="rgba(0,0,255,0.5)" stroke-width="2.2"/>
<text transform="translate(264.1,1876.2) rotate(-45)" font-size="7.4" text-anchor="middle" dy="2.6" textLength="22.5" lengthAdjust="spacingAndGlyphs" fill="#333" stroke="#333" stroke-width="0.15">n=35</text>
<path d="M293 1721.8V1926.9M293 1964V1964M288.2 1721.8H297.8M288.2 1964H297.8" stroke="#7a7a7a" stroke-width="1.6" fill="none"/>
<rect x="282" y="1926.9" width="22" height="37.1" fill="#FF005F" stroke="rgba(0,0,0,0.55)" stroke-width="1.1"/>
<path d="M282 1964H304" stroke="rgba(0,0,255,0.5)" stroke-width="2.2"/>
<text transform="translate(293.5,1704.7) rotate(-45)" font-size="7.4" text-anchor="middle" dy="2.6" textLength="22.5" lengthAdjust="spacingAndGlyphs" fill="#333" stroke="#333" stroke-width="0.15">n=35</text>
<path d="M336.8 1964V1964M336.8 1964V1964M332 1964H341.6M332 1964H341.6" stroke="#7a7a7a" stroke-width="1.6" fill="none"/>
<rect x="325.8" y="1964" width="22" height="0" fill="#00FAB4" stroke="rgba(0,0,0,0.55)" stroke-width="1.1"/>
<path d="M325.8 1964H347.8" stroke="rgba(0,0,255,0.5)" stroke-width="2.2"/>
<text transform="translate(337.3,1948.8) rotate(-45)" font-size="7.4" text-anchor="middle" dy="2.6" textLength="17.3" lengthAdjust="spacingAndGlyphs" fill="#333" stroke="#333" stroke-width="0.15">n=5</text>
<path d="M366.4 1532.1V1893.7M366.4 1964.2V1964.2M361.6 1532.1H371.2M361.6 1964.2H371.2" stroke="#7a7a7a" stroke-width="1.6" fill="none"/>
<rect x="355.4" y="1893.7" width="22" height="70.5" fill="#FF005F" stroke="rgba(0,0,0,0.55)" stroke-width="1.1"/>
<path d="M355.4 1964.2H377.4" stroke="rgba(0,0,255,0.5)" stroke-width="2.2"/>
<text transform="translate(366.9,1515) rotate(-45)" font-size="7.4" text-anchor="middle" dy="2.6" textLength="22.5" lengthAdjust="spacingAndGlyphs" fill="#333" stroke="#333" stroke-width="0.15">n=50</text>
<path d="M410.5 1657.2V1785.3M410.5 1858.9V1906.1M405.7 1657.2H415.3M405.7 1906.1H415.3" stroke="#7a7a7a" stroke-width="1.6" fill="none"/>
<rect x="399.5" y="1785.3" width="22" height="73.6" fill="#00FAB4" stroke="rgba(0,0,0,0.55)" stroke-width="1.1"/>
<path d="M399.5 1807.7H421.5" stroke="rgba(0,0,255,0.5)" stroke-width="2.2"/>
<text transform="translate(411,1640.1) rotate(-45)" font-size="7.4" text-anchor="middle" dy="2.6" textLength="22.5" lengthAdjust="spacingAndGlyphs" fill="#333" stroke="#333" stroke-width="0.15">n=50</text>
<path d="M440 1802.6V1925.6M440 1955.9V1964.2M435.2 1802.6H444.8M435.2 1964.2H444.8" stroke="#7a7a7a" stroke-width="1.6" fill="none"/>
<rect x="429" y="1925.6" width="22" height="30.3" fill="#FF005F" stroke="rgba(0,0,0,0.55)" stroke-width="1.1"/>
<path d="M429 1940.2H451" stroke="rgba(0,0,255,0.5)" stroke-width="2.2"/>
<text transform="translate(440.5,1785.5) rotate(-45)" font-size="7.4" text-anchor="middle" dy="2.6" textLength="22.5" lengthAdjust="spacingAndGlyphs" fill="#333" stroke="#333" stroke-width="0.15">n=50</text>
<path d="M476.8 1863.4V1878.9M476.8 1907V1938.4M472 1863.4H481.6M472 1938.4H481.6" stroke="#7a7a7a" stroke-width="1.6" fill="none"/>
<rect x="467.6" y="1878.9" width="18.5" height="28.1" fill="#00FAB4" stroke="rgba(0,0,0,0.55)" stroke-width="1.1"/>
<path d="M467.6 1899.1H486.1" stroke="rgba(0,0,255,0.5)" stroke-width="2.2"/>
<text transform="translate(477.3,1846.3) rotate(-45)" font-size="7.4" text-anchor="middle" dy="2.6" textLength="22.5" lengthAdjust="spacingAndGlyphs" fill="#333" stroke="#333" stroke-width="0.15">n=20</text>
<path d="M498.8 1836.9V1899.8M498.8 1953.6V1964.2M494 1836.9H503.6M494 1964.2H503.6" stroke="#7a7a7a" stroke-width="1.6" fill="none"/>
<rect x="489.6" y="1899.8" width="18.5" height="53.8" fill="#FF005F" stroke="rgba(0,0,0,0.55)" stroke-width="1.1"/>
<path d="M489.6 1919.3H508.1" stroke="rgba(0,0,255,0.5)" stroke-width="2.2"/>
<text transform="translate(499.3,1819.8) rotate(-45)" font-size="7.4" text-anchor="middle" dy="2.6" textLength="22.5" lengthAdjust="spacingAndGlyphs" fill="#333" stroke="#333" stroke-width="0.15">n=20</text>
<path d="M520.7 1836.9V1899.8M520.7 1953.6V1964.2M515.9 1836.9H525.5M515.9 1964.2H525.5" stroke="#7a7a7a" stroke-width="1.6" fill="none"/>
<rect x="511.5" y="1899.8" width="18.5" height="53.8" fill="#0000DD" stroke="rgba(0,0,0,0.55)" stroke-width="1.1"/>
<path d="M511.5 1919.3H530" stroke="rgba(0,0,255,0.5)" stroke-width="2.2"/>
<text transform="translate(521.2,1819.8) rotate(-45)" font-size="7.4" text-anchor="middle" dy="2.6" textLength="22.5" lengthAdjust="spacingAndGlyphs" fill="#333" stroke="#333" stroke-width="0.15">n=20</text>
<path d="M557.5 1686.6V1751.2M557.5 1816.3V1847M552.7 1686.6H562.3M552.7 1847H562.3" stroke="#7a7a7a" stroke-width="1.6" fill="none"/>
<rect x="546.5" y="1751.2" width="22" height="65.1" fill="#00FAB4" stroke="rgba(0,0,0,0.55)" stroke-width="1.1"/>
<path d="M546.5 1783.5H568.5" stroke="rgba(0,0,255,0.5)" stroke-width="2.2"/>
<text transform="translate(558,1669.5) rotate(-45)" font-size="7.4" text-anchor="middle" dy="2.6" textLength="22.5" lengthAdjust="spacingAndGlyphs" fill="#333" stroke="#333" stroke-width="0.15">n=21</text>
<path d="M587 1813.4V1871.3M587 1933.9V1951.9M582.2 1813.4H591.8M582.2 1951.9H591.8" stroke="#7a7a7a" stroke-width="1.6" fill="none"/>
<rect x="576" y="1871.3" width="22" height="62.6" fill="#FF005F" stroke="rgba(0,0,0,0.55)" stroke-width="1.1"/>
<path d="M576 1918.9H598" stroke="rgba(0,0,255,0.5)" stroke-width="2.2"/>
<text transform="translate(587.5,1796.3) rotate(-45)" font-size="7.4" text-anchor="middle" dy="2.6" textLength="22.5" lengthAdjust="spacingAndGlyphs" fill="#333" stroke="#333" stroke-width="0.15">n=21</text>
<rect x="80" y="1458.2" width="543.5" height="531.3" fill="none" stroke="#8c8c8c" stroke-width="1.7"/>
<path d="M131.3 1989.5v3.5M204.6 1989.5v3.5M277.9 1989.5v3.5M351.2 1989.5v3.5M424.6 1989.5v3.5M497.9 1989.5v3.5M571.3 1989.5v3.5M80 1458.2h-3.5M80 1989.5h-3.5" stroke="#8c8c8c" stroke-width="1.2"/>
<text transform="translate(131.3,2009.1) rotate(-30)" font-size="10.5" text-anchor="middle" dy="3.6" textLength="31.6" lengthAdjust="spacingAndGlyphs" fill="#222" stroke="#222" stroke-width="0.3">LIRI-JP</text>
<text transform="translate(204.6,2015.8) rotate(-30)" font-size="10.5" text-anchor="middle" dy="3.6" textLength="58.6" lengthAdjust="spacingAndGlyphs" fill="#222" stroke="#222" stroke-width="0.3">GSE119336</text>
<text transform="translate(277.9,2015.8) rotate(-30)" font-size="10.5" text-anchor="middle" dy="3.6" textLength="58.6" lengthAdjust="spacingAndGlyphs" fill="#222" stroke="#222" stroke-width="0.3">GSE124535</text>
<text transform="translate(351.2,2014.2) rotate(-30)" font-size="10.5" text-anchor="middle" dy="3.6" textLength="52.2" lengthAdjust="spacingAndGlyphs" fill="#222" stroke="#222" stroke-width="0.3">GSE65485</text>
<text transform="translate(424.6,2014.2) rotate(-30)" font-size="10.5" text-anchor="middle" dy="3.6" textLength="52.2" lengthAdjust="spacingAndGlyphs" fill="#222" stroke="#222" stroke-width="0.3">GSE77314</text>
<text transform="translate(497.9,2014.2) rotate(-30)" font-size="10.5" text-anchor="middle" dy="3.6" textLength="52.2" lengthAdjust="spacingAndGlyphs" fill="#222" stroke="#222" stroke-width="0.3">GSE77509</text>
<text transform="translate(571.3,2014.2) rotate(-30)" font-size="10.5" text-anchor="middle" dy="3.6" textLength="52.2" lengthAdjust="spacingAndGlyphs" fill="#222" stroke="#222" stroke-width="0.3">GSE94660</text>
<rect x="409.6" y="1463.4" width="209.6" height="77" rx="2" fill="rgba(255,255,255,0.85)" stroke="#dcdcdc" stroke-width="1"/>
<rect x="413.1" y="1466.9" width="18" height="6.6" fill="#D35400"/>
<text x="437.1" y="1473.3" font-size="7.7" textLength="89.3" lengthAdjust="spacingAndGlyphs" fill="#2a2a2a" stroke="#2a2a2a" stroke-width="0.15">Primary Liver Cancer</text>
<rect x="413.1" y="1479.4" width="18" height="6.6" fill="#00C8FF"/>
<text x="437.1" y="1485.8" font-size="7.7" textLength="101.6" lengthAdjust="spacingAndGlyphs" fill="#2a2a2a" stroke="#2a2a2a" stroke-width="0.15">Secondary Liver Cancer</text>
<rect x="413.1" y="1491.8" width="18" height="6.6" fill="#00FAB4"/>
<text x="437.1" y="1498.2" font-size="7.7" textLength="69.3" lengthAdjust="spacingAndGlyphs" fill="#2a2a2a" stroke="#2a2a2a" stroke-width="0.15">Non-Tumor Liver</text>
<rect x="413.1" y="1504.2" width="18" height="6.6" fill="#FF005F"/>
<text x="437.1" y="1510.6" font-size="7.7" textLength="133" lengthAdjust="spacingAndGlyphs" fill="#2a2a2a" stroke="#2a2a2a" stroke-width="0.15">Heptocellular Carcinoma (HCC)</text>
<rect x="413.1" y="1516.7" width="18" height="6.6" fill="#0000DD"/>
<text x="437.1" y="1523.1" font-size="7.7" textLength="178.6" lengthAdjust="spacingAndGlyphs" fill="#2a2a2a" stroke="#2a2a2a" stroke-width="0.15">Portal Vein Tumor Thrombosis (HCC-PVTT)</text>
<rect x="413.1" y="1529.2" width="18" height="6.6" fill="#E600E6"/>
<text x="437.1" y="1535.5" font-size="7.7" textLength="108.8" lengthAdjust="spacingAndGlyphs" fill="#2a2a2a" stroke="#2a2a2a" stroke-width="0.15">Cholagiocarcinoma (CCA)</text>
<text x="690" y="1441" font-size="28" fill="#111">F</text>
<text x="1004" y="1452.6" font-size="18.3" text-anchor="middle" textLength="215.1" lengthAdjust="spacingAndGlyphs" fill="#1a1a1a" stroke="#1a1a1a" stroke-width="0.25">SAMs (TME-Stroma Atlas)</text>
<text transform="translate(693,1723.8) rotate(-90)" font-size="18.4" text-anchor="middle" textLength="160.2" lengthAdjust="spacingAndGlyphs" fill="#1a1a1a" stroke="#1a1a1a" stroke-width="0.3">Estimated Fraction</text>
<text x="724.3" y="1461.4" font-size="8.0" text-anchor="end" textLength="17.6" lengthAdjust="spacingAndGlyphs" fill="#333" stroke="#333" stroke-width="0.2">0.65</text>
<text x="724.3" y="1992.7" font-size="8.0" text-anchor="end" textLength="24.2" lengthAdjust="spacingAndGlyphs" fill="#333" stroke="#333" stroke-width="0.2">−0.03</text>
<path d="M761.1 1786V1895.5M761.1 1922.2V1957.5M756.3 1786H765.9M756.3 1957.5H765.9" stroke="#7a7a7a" stroke-width="1.6" fill="none"/>
<rect x="751.8" y="1895.5" width="18.5" height="26.7" fill="#00FAB4" stroke="rgba(0,0,0,0.55)" stroke-width="1.1"/>
<path d="M751.8 1910.2H770.3" stroke="rgba(0,0,255,0.5)" stroke-width="2.2"/>
<text transform="translate(761.6,1767.1) rotate(-45)" font-size="7.4" text-anchor="middle" dy="2.6" textLength="27.7" lengthAdjust="spacingAndGlyphs" fill="#333" stroke="#333" stroke-width="0.15">n=202</text>
<path d="M782.9 1579V1747.7M782.9 1844.8V1944.9M778.1 1579H787.7M778.1 1944.9H787.7" stroke="#7a7a7a" stroke-width="1.6" fill="none"/>
<rect x="773.6" y="1747.7" width="18.5" height="97.1" fill="#D35400" stroke="rgba(0,0,0,0.55)" stroke-width="1.1"/>
<path d="M773.6 1793.2H792.1" stroke="rgba(0,0,255,0.5)" stroke-width="2.2"/>
<text transform="translate(783.4,1560.1) rotate(-45)" font-size="7.4" text-anchor="middle" dy="2.6" textLength="27.7" lengthAdjust="spacingAndGlyphs" fill="#333" stroke="#333" stroke-width="0.15">n=211</text>
<path d="M805.3 1677.6V1758.5M805.3 1833.7V1889.6M800.5 1677.6H810.1M800.5 1889.6H810.1" stroke="#7a7a7a" stroke-width="1.6" fill="none"/>
<rect x="796" y="1758.5" width="18.5" height="75.2" fill="#00C8FF" stroke="rgba(0,0,0,0.55)" stroke-width="1.1"/>
<path d="M796 1807.3H814.5" stroke="rgba(0,0,255,0.5)" stroke-width="2.2"/>
<text transform="translate(805.8,1660.5) rotate(-45)" font-size="7.4" text-anchor="middle" dy="2.6" textLength="22.5" lengthAdjust="spacingAndGlyphs" fill="#333" stroke="#333" stroke-width="0.15">n=32</text>
<path d="M841.8 1799.7V1832.9M841.8 1891.8V1949.2M837 1799.7H846.6M837 1949.2H846.6" stroke="#7a7a7a" stroke-width="1.6" fill="none"/>
<rect x="830.8" y="1832.9" width="22" height="58.9" fill="#00FAB4" stroke="rgba(0,0,0,0.55)" stroke-width="1.1"/>
<path d="M830.8 1873.4H852.8" stroke="rgba(0,0,255,0.5)" stroke-width="2.2"/>
<text transform="translate(842.3,1782.6) rotate(-45)" font-size="7.4" text-anchor="middle" dy="2.6" textLength="22.5" lengthAdjust="spacingAndGlyphs" fill="#333" stroke="#333" stroke-width="0.15">n=15</text>
<path d="M871.2 1548.9V1648.7M871.2 1714.5V1746.6M866.4 1548.9H876M866.4 1746.6H876" stroke="#7a7a7a" stroke-width="1.6" fill="none"/>
<rect x="860.2" y="1648.7" width="22" height="65.8" fill="#E600E6" stroke="rgba(0,0,0,0.55)" stroke-width="1.1"/>
<path d="M860.2 1679.2H882.2" stroke="rgba(0,0,255,0.5)" stroke-width="2.2"/>
<text transform="translate(871.7,1531.8) rotate(-45)" font-size="7.4" text-anchor="middle" dy="2.6" textLength="22.5" lengthAdjust="spacingAndGlyphs" fill="#333" stroke="#333" stroke-width="0.15">n=15</text>
<path d="M915.4 1620V1769.4M915.4 1863V1915.6M910.6 1620H920.2M910.6 1915.6H920.2" stroke="#7a7a7a" stroke-width="1.6" fill="none"/>
<rect x="904.4" y="1769.4" width="22" height="93.6" fill="#00FAB4" stroke="rgba(0,0,0,0.55)" stroke-width="1.1"/>
<path d="M904.4 1816.4H926.4" stroke="rgba(0,0,255,0.5)" stroke-width="2.2"/>
<text transform="translate(915.9,1602.9) rotate(-45)" font-size="7.4" text-anchor="middle" dy="2.6" textLength="22.5" lengthAdjust="spacingAndGlyphs" fill="#333" stroke="#333" stroke-width="0.15">n=35</text>
<path d="M944.8 1587.1V1683.7M944.8 1793.2V1928M940 1587.1H949.6M940 1928H949.6" stroke="#7a7a7a" stroke-width="1.6" fill="none"/>
<rect x="933.8" y="1683.7" width="22" height="109.5" fill="#FF005F" stroke="rgba(0,0,0,0.55)" stroke-width="1.1"/>
<path d="M933.8 1739.7H955.8" stroke="rgba(0,0,255,0.5)" stroke-width="2.2"/>
<text transform="translate(945.3,1570) rotate(-45)" font-size="7.4" text-anchor="middle" dy="2.6" textLength="22.5" lengthAdjust="spacingAndGlyphs" fill="#333" stroke="#333" stroke-width="0.15">n=35</text>
<path d="M988.6 1812.3V1819.6M988.6 1860V1876M983.8 1812.3H993.4M983.8 1876H993.4" stroke="#7a7a7a" stroke-width="1.6" fill="none"/>
<rect x="977.6" y="1819.6" width="22" height="40.4" fill="#00FAB4" stroke="rgba(0,0,0,0.55)" stroke-width="1.1"/>
<path d="M977.6 1860H999.6" stroke="rgba(0,0,255,0.5)" stroke-width="2.2"/>
<text transform="translate(989.1,1797.1) rotate(-45)" font-size="7.4" text-anchor="middle" dy="2.6" textLength="17.3" lengthAdjust="spacingAndGlyphs" fill="#333" stroke="#333" stroke-width="0.15">n=5</text>
<path d="M1018.2 1499.1V1710.5M1018.2 1811.1V1858.7M1013.4 1499.1H1023M1013.4 1858.7H1023" stroke="#7a7a7a" stroke-width="1.6" fill="none"/>
<rect x="1007.2" y="1710.5" width="22" height="100.6" fill="#FF005F" stroke="rgba(0,0,0,0.55)" stroke-width="1.1"/>
<path d="M1007.2 1763.5H1029.2" stroke="rgba(0,0,255,0.5)" stroke-width="2.2"/>
<text transform="translate(1018.7,1482) rotate(-45)" font-size="7.4" text-anchor="middle" dy="2.6" textLength="22.5" lengthAdjust="spacingAndGlyphs" fill="#333" stroke="#333" stroke-width="0.15">n=50</text>
<path d="M1062.3 1854.4V1905.4M1062.3 1939.7V1966.7M1057.5 1854.4H1067.1M1057.5 1966.7H1067.1" stroke="#7a7a7a" stroke-width="1.6" fill="none"/>
<rect x="1051.3" y="1905.4" width="22" height="34.3" fill="#00FAB4" stroke="rgba(0,0,0,0.55)" stroke-width="1.1"/>
<path d="M1051.3 1921.8H1073.3" stroke="rgba(0,0,255,0.5)" stroke-width="2.2"/>
<text transform="translate(1062.8,1837.3) rotate(-45)" font-size="7.4" text-anchor="middle" dy="2.6" textLength="22.5" lengthAdjust="spacingAndGlyphs" fill="#333" stroke="#333" stroke-width="0.15">n=50</text>
<path d="M1091.8 1604.6V1794.7M1091.8 1857.8V1926.7M1087 1604.6H1096.6M1087 1926.7H1096.6" stroke="#7a7a7a" stroke-width="1.6" fill="none"/>
<rect x="1080.8" y="1794.7" width="22" height="63.1" fill="#FF005F" stroke="rgba(0,0,0,0.55)" stroke-width="1.1"/>
<path d="M1080.8 1835.1H1102.8" stroke="rgba(0,0,255,0.5)" stroke-width="2.2"/>
<text transform="translate(1092.3,1587.5) rotate(-45)" font-size="7.4" text-anchor="middle" dy="2.6" textLength="22.5" lengthAdjust="spacingAndGlyphs" fill="#333" stroke="#333" stroke-width="0.15">n=50</text>
<path d="M1128.6 1921.8V1936.4M1128.6 1961V1966.7M1123.8 1921.8H1133.4M1123.8 1966.7H1133.4" stroke="#7a7a7a" stroke-width="1.6" fill="none"/>
<rect x="1119.3" y="1936.4" width="18.5" height="24.6" fill="#00FAB4" stroke="rgba(0,0,0,0.55)" stroke-width="1.1"/>
<path d="M1119.3 1951.4H1137.8" stroke="rgba(0,0,255,0.5)" stroke-width="2.2"/>
<text transform="translate(1129.1,1904.7) rotate(-45)" font-size="7.4" text-anchor="middle" dy="2.6" textLength="22.5" lengthAdjust="spacingAndGlyphs" fill="#333" stroke="#333" stroke-width="0.15">n=20</text>
<path d="M1150.6 1731V1865M1150.6 1914.4V1948M1145.8 1731H1155.4M1145.8 1948H1155.4" stroke="#7a7a7a" stroke-width="1.6" fill="none"/>
<rect x="1141.3" y="1865" width="18.5" height="49.4" fill="#FF005F" stroke="rgba(0,0,0,0.55)" stroke-width="1.1"/>
<path d="M1141.3 1898.7H1159.8" stroke="rgba(0,0,255,0.5)" stroke-width="2.2"/>
<text transform="translate(1151.1,1713.9) rotate(-45)" font-size="7.4" text-anchor="middle" dy="2.6" textLength="22.5" lengthAdjust="spacingAndGlyphs" fill="#333" stroke="#333" stroke-width="0.15">n=20</text>
<path d="M1172.5 1731V1865M1172.5 1914.4V1948M1167.7 1731H1177.3M1167.7 1948H1177.3" stroke="#7a7a7a" stroke-width="1.6" fill="none"/>
<rect x="1163.2" y="1865" width="18.5" height="49.4" fill="#0000DD" stroke="rgba(0,0,0,0.55)" stroke-width="1.1"/>
<path d="M1163.2 1898.7H1181.8" stroke="rgba(0,0,255,0.5)" stroke-width="2.2"/>
<text transform="translate(1173,1713.9) rotate(-45)" font-size="7.4" text-anchor="middle" dy="2.6" textLength="22.5" lengthAdjust="spacingAndGlyphs" fill="#333" stroke="#333" stroke-width="0.15">n=20</text>
<path d="M1209.3 1877.3V1896.9M1209.3 1922.2V1936.8M1204.5 1877.3H1214.1M1204.5 1936.8H1214.1" stroke="#7a7a7a" stroke-width="1.6" fill="none"/>
<rect x="1198.3" y="1896.9" width="22" height="25.3" fill="#00FAB4" stroke="rgba(0,0,0,0.55)" stroke-width="1.1"/>
<path d="M1198.3 1902H1220.3" stroke="rgba(0,0,255,0.5)" stroke-width="2.2"/>
<text transform="translate(1209.8,1860.2) rotate(-45)" font-size="7.4" text-anchor="middle" dy="2.6" textLength="22.5" lengthAdjust="spacingAndGlyphs" fill="#333" stroke="#333" stroke-width="0.15">n=21</text>
<path d="M1238.8 1735.9V1841.9M1238.8 1882.9V1893.5M1234 1735.9H1243.6M1234 1893.5H1243.6" stroke="#7a7a7a" stroke-width="1.6" fill="none"/>
<rect x="1227.8" y="1841.9" width="22" height="41" fill="#FF005F" stroke="rgba(0,0,0,0.55)" stroke-width="1.1"/>
<path d="M1227.8 1867.2H1249.8" stroke="rgba(0,0,255,0.5)" stroke-width="2.2"/>
<text transform="translate(1239.3,1718.8) rotate(-45)" font-size="7.4" text-anchor="middle" dy="2.6" textLength="22.5" lengthAdjust="spacingAndGlyphs" fill="#333" stroke="#333" stroke-width="0.15">n=21</text>
<rect x="731.8" y="1458.2" width="544.4" height="531.3" fill="none" stroke="#8c8c8c" stroke-width="1.7"/>
<path d="M783.1 1989.5v3.5M856.4 1989.5v3.5M929.7 1989.5v3.5M1003 1989.5v3.5M1076.4 1989.5v3.5M1149.7 1989.5v3.5M1223.1 1989.5v3.5M731.8 1458.2h-3.5M731.8 1989.5h-3.5" stroke="#8c8c8c" stroke-width="1.2"/>
<text transform="translate(783.1,2009.1) rotate(-30)" font-size="10.5" text-anchor="middle" dy="3.6" textLength="31.6" lengthAdjust="spacingAndGlyphs" fill="#222" stroke="#222" stroke-width="0.3">LIRI-JP</text>
<text transform="translate(856.4,2015.8) rotate(-30)" font-size="10.5" text-anchor="middle" dy="3.6" textLength="58.6" lengthAdjust="spacingAndGlyphs" fill="#222" stroke="#222" stroke-width="0.3">GSE119336</text>
<text transform="translate(929.7,2015.8) rotate(-30)" font-size="10.5" text-anchor="middle" dy="3.6" textLength="58.6" lengthAdjust="spacingAndGlyphs" fill="#222" stroke="#222" stroke-width="0.3">GSE124535</text>
<text transform="translate(1003,2014.2) rotate(-30)" font-size="10.5" text-anchor="middle" dy="3.6" textLength="52.2" lengthAdjust="spacingAndGlyphs" fill="#222" stroke="#222" stroke-width="0.3">GSE65485</text>
<text transform="translate(1076.4,2014.2) rotate(-30)" font-size="10.5" text-anchor="middle" dy="3.6" textLength="52.2" lengthAdjust="spacingAndGlyphs" fill="#222" stroke="#222" stroke-width="0.3">GSE77314</text>
<text transform="translate(1149.7,2014.2) rotate(-30)" font-size="10.5" text-anchor="middle" dy="3.6" textLength="52.2" lengthAdjust="spacingAndGlyphs" fill="#222" stroke="#222" stroke-width="0.3">GSE77509</text>
<text transform="translate(1223.1,2014.2) rotate(-30)" font-size="10.5" text-anchor="middle" dy="3.6" textLength="52.2" lengthAdjust="spacingAndGlyphs" fill="#222" stroke="#222" stroke-width="0.3">GSE94660</text>
<rect x="1062.3" y="1463.4" width="209.6" height="77" rx="2" fill="rgba(255,255,255,0.85)" stroke="#dcdcdc" stroke-width="1"/>
<rect x="1065.8" y="1466.9" width="18" height="6.6" fill="#D35400"/>
<text x="1089.8" y="1473.3" font-size="7.7" textLength="89.3" lengthAdjust="spacingAndGlyphs" fill="#2a2a2a" stroke="#2a2a2a" stroke-width="0.15">Primary Liver Cancer</text>
<rect x="1065.8" y="1479.4" width="18" height="6.6" fill="#00C8FF"/>
<text x="1089.8" y="1485.8" font-size="7.7" textLength="101.6" lengthAdjust="spacingAndGlyphs" fill="#2a2a2a" stroke="#2a2a2a" stroke-width="0.15">Secondary Liver Cancer</text>
<rect x="1065.8" y="1491.8" width="18" height="6.6" fill="#00FAB4"/>
<text x="1089.8" y="1498.2" font-size="7.7" textLength="69.3" lengthAdjust="spacingAndGlyphs" fill="#2a2a2a" stroke="#2a2a2a" stroke-width="0.15">Non-Tumor Liver</text>
<rect x="1065.8" y="1504.2" width="18" height="6.6" fill="#FF005F"/>
<text x="1089.8" y="1510.6" font-size="7.7" textLength="133" lengthAdjust="spacingAndGlyphs" fill="#2a2a2a" stroke="#2a2a2a" stroke-width="0.15">Heptocellular Carcinoma (HCC)</text>
<rect x="1065.8" y="1516.7" width="18" height="6.6" fill="#0000DD"/>
<text x="1089.8" y="1523.1" font-size="7.7" textLength="178.6" lengthAdjust="spacingAndGlyphs" fill="#2a2a2a" stroke="#2a2a2a" stroke-width="0.15">Portal Vein Tumor Thrombosis (HCC-PVTT)</text>
<rect x="1065.8" y="1529.2" width="18" height="6.6" fill="#E600E6"/>
<text x="1089.8" y="1535.5" font-size="7.7" textLength="108.8" lengthAdjust="spacingAndGlyphs" fill="#2a2a2a" stroke="#2a2a2a" stroke-width="0.15">Cholagiocarcinoma (CCA)</text>
</svg></body></html>
